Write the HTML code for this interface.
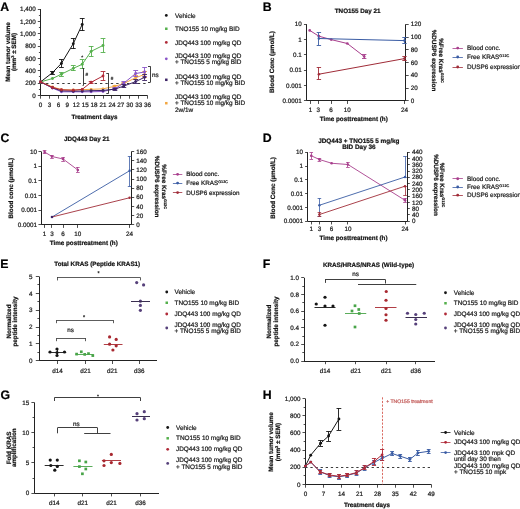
<!DOCTYPE html>
<html><head><meta charset="utf-8"><style>
html,body{margin:0;padding:0;background:#fff;}
svg{display:block;will-change:transform;filter:blur(0.3px);}
text{font-family:"Liberation Sans", sans-serif;text-rendering:geometricPrecision;}
</style></head><body>
<svg width="520" height="509" viewBox="0 0 520 509">
<rect width="520" height="509" fill="#fff"/>
<text x="0.30" y="11.00" font-size="12.3" text-anchor="start" font-weight="bold" fill="#000" stroke="#000" stroke-width="0.2">A</text>
<line x1="40.50" y1="9.05" x2="40.50" y2="95.50" stroke="#222" stroke-width="1.0"/>
<line x1="40.60" y1="95.50" x2="37.80" y2="95.50" stroke="#222" stroke-width="0.8"/>
<line x1="40.60" y1="83.50" x2="37.80" y2="83.50" stroke="#222" stroke-width="0.8"/>
<line x1="40.60" y1="70.50" x2="37.80" y2="70.50" stroke="#222" stroke-width="0.8"/>
<line x1="40.60" y1="58.50" x2="37.80" y2="58.50" stroke="#222" stroke-width="0.8"/>
<line x1="40.60" y1="46.50" x2="37.80" y2="46.50" stroke="#222" stroke-width="0.8"/>
<line x1="40.60" y1="33.50" x2="37.80" y2="33.50" stroke="#222" stroke-width="0.8"/>
<line x1="40.60" y1="21.50" x2="37.80" y2="21.50" stroke="#222" stroke-width="0.8"/>
<line x1="40.60" y1="9.50" x2="37.80" y2="9.50" stroke="#222" stroke-width="0.8"/>
<line x1="40.60" y1="89.50" x2="38.90" y2="89.50" stroke="#222" stroke-width="0.8"/>
<line x1="40.60" y1="76.50" x2="38.90" y2="76.50" stroke="#222" stroke-width="0.8"/>
<line x1="40.60" y1="64.50" x2="38.90" y2="64.50" stroke="#222" stroke-width="0.8"/>
<line x1="40.60" y1="52.50" x2="38.90" y2="52.50" stroke="#222" stroke-width="0.8"/>
<line x1="40.60" y1="39.50" x2="38.90" y2="39.50" stroke="#222" stroke-width="0.8"/>
<line x1="40.60" y1="27.50" x2="38.90" y2="27.50" stroke="#222" stroke-width="0.8"/>
<line x1="40.60" y1="15.50" x2="38.90" y2="15.50" stroke="#222" stroke-width="0.8"/>
<text x="35.70" y="97.60" font-size="6.3" text-anchor="end" fill="#222" stroke="#222" stroke-width="0.22">0</text>
<text x="35.70" y="85.25" font-size="6.3" text-anchor="end" fill="#222" stroke="#222" stroke-width="0.22">200</text>
<text x="35.70" y="72.90" font-size="6.3" text-anchor="end" fill="#222" stroke="#222" stroke-width="0.22">400</text>
<text x="35.70" y="60.55" font-size="6.3" text-anchor="end" fill="#222" stroke="#222" stroke-width="0.22">600</text>
<text x="35.70" y="48.20" font-size="6.3" text-anchor="end" fill="#222" stroke="#222" stroke-width="0.22">800</text>
<text x="35.70" y="35.85" font-size="6.3" text-anchor="end" fill="#222" stroke="#222" stroke-width="0.22">1,000</text>
<text x="35.70" y="23.50" font-size="6.3" text-anchor="end" fill="#222" stroke="#222" stroke-width="0.22">1,200</text>
<text x="35.70" y="11.15" font-size="6.3" text-anchor="end" fill="#222" stroke="#222" stroke-width="0.22">1,400</text>
<line x1="40.60" y1="95.50" x2="147.59" y2="95.50" stroke="#222" stroke-width="1.0"/>
<line x1="40.50" y1="95.50" x2="40.50" y2="98.70" stroke="#222" stroke-width="0.8"/>
<line x1="49.50" y1="95.50" x2="49.50" y2="98.70" stroke="#222" stroke-width="0.8"/>
<line x1="58.50" y1="95.50" x2="58.50" y2="98.70" stroke="#222" stroke-width="0.8"/>
<line x1="67.50" y1="95.50" x2="67.50" y2="98.70" stroke="#222" stroke-width="0.8"/>
<line x1="76.50" y1="95.50" x2="76.50" y2="98.70" stroke="#222" stroke-width="0.8"/>
<line x1="85.50" y1="95.50" x2="85.50" y2="98.70" stroke="#222" stroke-width="0.8"/>
<line x1="94.50" y1="95.50" x2="94.50" y2="98.70" stroke="#222" stroke-width="0.8"/>
<line x1="103.50" y1="95.50" x2="103.50" y2="98.70" stroke="#222" stroke-width="0.8"/>
<line x1="111.50" y1="95.50" x2="111.50" y2="98.70" stroke="#222" stroke-width="0.8"/>
<line x1="120.50" y1="95.50" x2="120.50" y2="98.70" stroke="#222" stroke-width="0.8"/>
<line x1="129.50" y1="95.50" x2="129.50" y2="98.70" stroke="#222" stroke-width="0.8"/>
<line x1="138.50" y1="95.50" x2="138.50" y2="98.70" stroke="#222" stroke-width="0.8"/>
<line x1="147.50" y1="95.50" x2="147.50" y2="98.70" stroke="#222" stroke-width="0.8"/>
<text x="40.60" y="107.45" font-size="6.3" text-anchor="middle" fill="#222" stroke="#222" stroke-width="0.22">0</text>
<text x="49.52" y="107.45" font-size="6.3" text-anchor="middle" fill="#222" stroke="#222" stroke-width="0.22">3</text>
<text x="58.43" y="107.45" font-size="6.3" text-anchor="middle" fill="#222" stroke="#222" stroke-width="0.22">6</text>
<text x="67.35" y="107.45" font-size="6.3" text-anchor="middle" fill="#222" stroke="#222" stroke-width="0.22">9</text>
<text x="76.26" y="107.45" font-size="6.3" text-anchor="middle" fill="#222" stroke="#222" stroke-width="0.22">12</text>
<text x="85.18" y="107.45" font-size="6.3" text-anchor="middle" fill="#222" stroke="#222" stroke-width="0.22">15</text>
<text x="94.10" y="107.45" font-size="6.3" text-anchor="middle" fill="#222" stroke="#222" stroke-width="0.22">18</text>
<text x="103.01" y="107.45" font-size="6.3" text-anchor="middle" fill="#222" stroke="#222" stroke-width="0.22">21</text>
<text x="111.93" y="107.45" font-size="6.3" text-anchor="middle" fill="#222" stroke="#222" stroke-width="0.22">24</text>
<text x="120.84" y="107.45" font-size="6.3" text-anchor="middle" fill="#222" stroke="#222" stroke-width="0.22">27</text>
<text x="129.76" y="107.45" font-size="6.3" text-anchor="middle" fill="#222" stroke="#222" stroke-width="0.22">30</text>
<text x="138.68" y="107.45" font-size="6.3" text-anchor="middle" fill="#222" stroke="#222" stroke-width="0.22">33</text>
<text x="147.59" y="107.45" font-size="6.3" text-anchor="middle" fill="#222" stroke="#222" stroke-width="0.22">36</text>
<text x="94.50" y="118.50" font-size="6.3" text-anchor="middle" font-weight="bold" fill="#111" stroke="#111" stroke-width="0.2">Treatment days</text>
<text x="9.80" y="52.00" font-size="6.3" text-anchor="middle" font-weight="bold" fill="#111" stroke="#111" stroke-width="0.2" transform="rotate(-90 9.8 52)">Mean tumor volume</text>
<text x="16.30" y="52.00" font-size="6.3" text-anchor="middle" font-weight="bold" fill="#111" stroke="#111" stroke-width="0.2" transform="rotate(-90 16.3 52)">(mm<tspan font-size="4" dy="-2">3</tspan><tspan dy="2"> ± SEM)</tspan></text>
<line x1="40.60" y1="83.50" x2="147.59" y2="83.50" stroke="#333" stroke-width="0.95" stroke-dasharray="2.4,3.0"/>
<polyline points="40.60,81.92 52.49,72.65 61.40,63.39 73.29,43.63 82.21,24.49" fill="none" stroke="#151515" stroke-width="1.0" stroke-linejoin="round"/>
<circle cx="40.60" cy="81.92" r="1.45" fill="#151515"/>
<line x1="52.50" y1="71.29" x2="52.50" y2="74.01" stroke="#151515" stroke-width="0.9"/>
<line x1="50.09" y1="71.50" x2="54.89" y2="71.50" stroke="#151515" stroke-width="0.9"/>
<line x1="50.09" y1="74.50" x2="54.89" y2="74.50" stroke="#151515" stroke-width="0.9"/>
<circle cx="52.49" cy="72.65" r="1.45" fill="#151515"/>
<line x1="61.50" y1="59.38" x2="61.50" y2="67.40" stroke="#151515" stroke-width="0.9"/>
<line x1="59.00" y1="59.50" x2="63.80" y2="59.50" stroke="#151515" stroke-width="0.9"/>
<line x1="59.00" y1="67.50" x2="63.80" y2="67.50" stroke="#151515" stroke-width="0.9"/>
<circle cx="61.40" cy="63.39" r="1.45" fill="#151515"/>
<line x1="73.50" y1="38.44" x2="73.50" y2="48.82" stroke="#151515" stroke-width="0.9"/>
<line x1="70.89" y1="38.50" x2="75.69" y2="38.50" stroke="#151515" stroke-width="0.9"/>
<line x1="70.89" y1="48.50" x2="75.69" y2="48.50" stroke="#151515" stroke-width="0.9"/>
<circle cx="73.29" cy="43.63" r="1.45" fill="#151515"/>
<line x1="82.50" y1="18.07" x2="82.50" y2="30.91" stroke="#151515" stroke-width="0.9"/>
<line x1="79.81" y1="18.50" x2="84.61" y2="18.50" stroke="#151515" stroke-width="0.9"/>
<line x1="79.81" y1="30.50" x2="84.61" y2="30.50" stroke="#151515" stroke-width="0.9"/>
<circle cx="82.21" cy="24.49" r="1.45" fill="#151515"/>
<polyline points="40.60,81.92 52.49,78.52 61.40,74.20 73.29,68.33 82.21,64.32 91.12,51.35 103.01,45.48" fill="none" stroke="#55b04c" stroke-width="1.0" stroke-linejoin="round"/>
<circle cx="40.60" cy="81.92" r="1.45" fill="#55b04c"/>
<circle cx="52.49" cy="78.52" r="1.45" fill="#55b04c"/>
<line x1="61.50" y1="72.34" x2="61.50" y2="76.05" stroke="#55b04c" stroke-width="0.9"/>
<line x1="59.00" y1="72.50" x2="63.80" y2="72.50" stroke="#55b04c" stroke-width="0.9"/>
<line x1="59.00" y1="76.50" x2="63.80" y2="76.50" stroke="#55b04c" stroke-width="0.9"/>
<circle cx="61.40" cy="74.20" r="1.45" fill="#55b04c"/>
<line x1="73.50" y1="65.86" x2="73.50" y2="70.80" stroke="#55b04c" stroke-width="0.9"/>
<line x1="70.89" y1="65.50" x2="75.69" y2="65.50" stroke="#55b04c" stroke-width="0.9"/>
<line x1="70.89" y1="70.50" x2="75.69" y2="70.50" stroke="#55b04c" stroke-width="0.9"/>
<circle cx="73.29" cy="68.33" r="1.45" fill="#55b04c"/>
<line x1="82.50" y1="59.99" x2="82.50" y2="68.64" stroke="#55b04c" stroke-width="0.9"/>
<line x1="79.81" y1="59.50" x2="84.61" y2="59.50" stroke="#55b04c" stroke-width="0.9"/>
<line x1="79.81" y1="68.50" x2="84.61" y2="68.50" stroke="#55b04c" stroke-width="0.9"/>
<circle cx="82.21" cy="64.32" r="1.45" fill="#55b04c"/>
<line x1="91.50" y1="46.10" x2="91.50" y2="56.60" stroke="#55b04c" stroke-width="0.9"/>
<line x1="88.72" y1="46.50" x2="93.52" y2="46.50" stroke="#55b04c" stroke-width="0.9"/>
<line x1="88.72" y1="56.50" x2="93.52" y2="56.50" stroke="#55b04c" stroke-width="0.9"/>
<circle cx="91.12" cy="51.35" r="1.45" fill="#55b04c"/>
<line x1="103.50" y1="38.69" x2="103.50" y2="52.27" stroke="#55b04c" stroke-width="0.9"/>
<line x1="100.61" y1="38.50" x2="105.41" y2="38.50" stroke="#55b04c" stroke-width="0.9"/>
<line x1="100.61" y1="52.50" x2="105.41" y2="52.50" stroke="#55b04c" stroke-width="0.9"/>
<circle cx="103.01" cy="45.48" r="1.45" fill="#55b04c"/>
<polyline points="40.60,81.92 52.49,86.86 61.40,89.63 73.29,89.94 82.21,89.63 91.12,89.33 103.01,88.83 114.90,86.24 123.82,83.46 135.70,77.78 144.62,74.38" fill="none" stroke="#f2a640" stroke-width="1.0" stroke-linejoin="round"/>
<circle cx="40.60" cy="81.92" r="1.45" fill="#f2a640"/>
<circle cx="52.49" cy="86.86" r="1.45" fill="#f2a640"/>
<circle cx="61.40" cy="89.63" r="1.45" fill="#f2a640"/>
<circle cx="73.29" cy="89.94" r="1.45" fill="#f2a640"/>
<circle cx="82.21" cy="89.63" r="1.45" fill="#f2a640"/>
<circle cx="91.12" cy="89.33" r="1.45" fill="#f2a640"/>
<circle cx="103.01" cy="88.83" r="1.45" fill="#f2a640"/>
<line x1="114.50" y1="85.31" x2="114.50" y2="87.16" stroke="#f2a640" stroke-width="0.9"/>
<line x1="112.50" y1="85.50" x2="117.30" y2="85.50" stroke="#f2a640" stroke-width="0.9"/>
<line x1="112.50" y1="87.50" x2="117.30" y2="87.50" stroke="#f2a640" stroke-width="0.9"/>
<circle cx="114.90" cy="86.24" r="1.45" fill="#f2a640"/>
<line x1="123.50" y1="82.22" x2="123.50" y2="84.69" stroke="#f2a640" stroke-width="0.9"/>
<line x1="121.42" y1="82.50" x2="126.22" y2="82.50" stroke="#f2a640" stroke-width="0.9"/>
<line x1="121.42" y1="84.50" x2="126.22" y2="84.50" stroke="#f2a640" stroke-width="0.9"/>
<circle cx="123.82" cy="83.46" r="1.45" fill="#f2a640"/>
<line x1="135.50" y1="75.62" x2="135.50" y2="79.94" stroke="#f2a640" stroke-width="0.9"/>
<line x1="133.30" y1="75.50" x2="138.10" y2="75.50" stroke="#f2a640" stroke-width="0.9"/>
<line x1="133.30" y1="79.50" x2="138.10" y2="79.50" stroke="#f2a640" stroke-width="0.9"/>
<circle cx="135.70" cy="77.78" r="1.45" fill="#f2a640"/>
<line x1="144.50" y1="71.29" x2="144.50" y2="77.47" stroke="#f2a640" stroke-width="0.9"/>
<line x1="142.22" y1="71.50" x2="147.02" y2="71.50" stroke="#f2a640" stroke-width="0.9"/>
<line x1="142.22" y1="77.50" x2="147.02" y2="77.50" stroke="#f2a640" stroke-width="0.9"/>
<circle cx="144.62" cy="74.38" r="1.45" fill="#f2a640"/>
<polyline points="40.60,81.92 52.49,88.09 61.40,91.80 73.29,91.80 82.21,91.80 91.12,91.80 103.01,91.49 114.90,88.71 123.82,83.15 135.70,73.52 144.62,72.03" fill="none" stroke="#8a55c8" stroke-width="1.0" stroke-linejoin="round"/>
<circle cx="40.60" cy="81.92" r="1.45" fill="#8a55c8"/>
<circle cx="52.49" cy="88.09" r="1.45" fill="#8a55c8"/>
<circle cx="61.40" cy="91.80" r="1.45" fill="#8a55c8"/>
<circle cx="73.29" cy="91.80" r="1.45" fill="#8a55c8"/>
<circle cx="82.21" cy="91.80" r="1.45" fill="#8a55c8"/>
<circle cx="91.12" cy="91.80" r="1.45" fill="#8a55c8"/>
<circle cx="103.01" cy="91.49" r="1.45" fill="#8a55c8"/>
<line x1="114.50" y1="87.78" x2="114.50" y2="89.63" stroke="#8a55c8" stroke-width="0.9"/>
<line x1="112.50" y1="87.50" x2="117.30" y2="87.50" stroke="#8a55c8" stroke-width="0.9"/>
<line x1="112.50" y1="89.50" x2="117.30" y2="89.50" stroke="#8a55c8" stroke-width="0.9"/>
<circle cx="114.90" cy="88.71" r="1.45" fill="#8a55c8"/>
<line x1="123.50" y1="81.92" x2="123.50" y2="84.39" stroke="#8a55c8" stroke-width="0.9"/>
<line x1="121.42" y1="81.50" x2="126.22" y2="81.50" stroke="#8a55c8" stroke-width="0.9"/>
<line x1="121.42" y1="84.50" x2="126.22" y2="84.50" stroke="#8a55c8" stroke-width="0.9"/>
<circle cx="123.82" cy="83.15" r="1.45" fill="#8a55c8"/>
<line x1="135.50" y1="70.74" x2="135.50" y2="76.30" stroke="#8a55c8" stroke-width="0.9"/>
<line x1="133.30" y1="70.50" x2="138.10" y2="70.50" stroke="#8a55c8" stroke-width="0.9"/>
<line x1="133.30" y1="76.50" x2="138.10" y2="76.50" stroke="#8a55c8" stroke-width="0.9"/>
<circle cx="135.70" cy="73.52" r="1.45" fill="#8a55c8"/>
<line x1="144.50" y1="67.40" x2="144.50" y2="76.67" stroke="#8a55c8" stroke-width="0.9"/>
<line x1="142.22" y1="67.50" x2="147.02" y2="67.50" stroke="#8a55c8" stroke-width="0.9"/>
<line x1="142.22" y1="76.50" x2="147.02" y2="76.50" stroke="#8a55c8" stroke-width="0.9"/>
<circle cx="144.62" cy="72.03" r="1.45" fill="#8a55c8"/>
<polyline points="40.60,81.92 52.49,87.78 61.40,90.87 73.29,91.18 82.21,91.05 91.12,90.68 103.01,90.44 114.90,89.14 123.82,86.05 135.70,81.61 144.62,77.28" fill="none" stroke="#3d2466" stroke-width="1.0" stroke-linejoin="round"/>
<circle cx="40.60" cy="81.92" r="1.45" fill="#3d2466"/>
<circle cx="52.49" cy="87.78" r="1.45" fill="#3d2466"/>
<circle cx="61.40" cy="90.87" r="1.45" fill="#3d2466"/>
<circle cx="73.29" cy="91.18" r="1.45" fill="#3d2466"/>
<circle cx="82.21" cy="91.05" r="1.45" fill="#3d2466"/>
<circle cx="91.12" cy="90.68" r="1.45" fill="#3d2466"/>
<circle cx="103.01" cy="90.44" r="1.45" fill="#3d2466"/>
<line x1="114.50" y1="88.21" x2="114.50" y2="90.07" stroke="#3d2466" stroke-width="0.9"/>
<line x1="112.50" y1="88.50" x2="117.30" y2="88.50" stroke="#3d2466" stroke-width="0.9"/>
<line x1="112.50" y1="90.50" x2="117.30" y2="90.50" stroke="#3d2466" stroke-width="0.9"/>
<circle cx="114.90" cy="89.14" r="1.45" fill="#3d2466"/>
<line x1="123.50" y1="84.82" x2="123.50" y2="87.29" stroke="#3d2466" stroke-width="0.9"/>
<line x1="121.42" y1="84.50" x2="126.22" y2="84.50" stroke="#3d2466" stroke-width="0.9"/>
<line x1="121.42" y1="87.50" x2="126.22" y2="87.50" stroke="#3d2466" stroke-width="0.9"/>
<circle cx="123.82" cy="86.05" r="1.45" fill="#3d2466"/>
<line x1="135.50" y1="79.75" x2="135.50" y2="83.46" stroke="#3d2466" stroke-width="0.9"/>
<line x1="133.30" y1="79.50" x2="138.10" y2="79.50" stroke="#3d2466" stroke-width="0.9"/>
<line x1="133.30" y1="83.50" x2="138.10" y2="83.50" stroke="#3d2466" stroke-width="0.9"/>
<circle cx="135.70" cy="81.61" r="1.45" fill="#3d2466"/>
<line x1="144.50" y1="74.50" x2="144.50" y2="80.06" stroke="#3d2466" stroke-width="0.9"/>
<line x1="142.22" y1="74.50" x2="147.02" y2="74.50" stroke="#3d2466" stroke-width="0.9"/>
<line x1="142.22" y1="80.50" x2="147.02" y2="80.50" stroke="#3d2466" stroke-width="0.9"/>
<circle cx="144.62" cy="77.28" r="1.45" fill="#3d2466"/>
<polyline points="40.60,81.92 52.49,87.47 61.40,89.82 73.29,90.25 82.21,89.39 91.12,82.29 103.01,75.99" fill="none" stroke="#b02a38" stroke-width="1.0" stroke-linejoin="round"/>
<circle cx="40.60" cy="81.92" r="1.45" fill="#b02a38"/>
<circle cx="52.49" cy="87.47" r="1.45" fill="#b02a38"/>
<circle cx="61.40" cy="89.82" r="1.45" fill="#b02a38"/>
<circle cx="73.29" cy="90.25" r="1.45" fill="#b02a38"/>
<circle cx="82.21" cy="89.39" r="1.45" fill="#b02a38"/>
<line x1="91.50" y1="81.05" x2="91.50" y2="83.52" stroke="#b02a38" stroke-width="0.9"/>
<line x1="88.72" y1="81.50" x2="93.52" y2="81.50" stroke="#b02a38" stroke-width="0.9"/>
<line x1="88.72" y1="83.50" x2="93.52" y2="83.50" stroke="#b02a38" stroke-width="0.9"/>
<circle cx="91.12" cy="82.29" r="1.45" fill="#b02a38"/>
<line x1="103.50" y1="71.66" x2="103.50" y2="80.31" stroke="#b02a38" stroke-width="0.9"/>
<line x1="100.61" y1="71.50" x2="105.41" y2="71.50" stroke="#b02a38" stroke-width="0.9"/>
<line x1="100.61" y1="80.50" x2="105.41" y2="80.50" stroke="#b02a38" stroke-width="0.9"/>
<circle cx="103.01" cy="75.99" r="1.45" fill="#b02a38"/>
<text x="82.21" y="58.50" font-size="5" text-anchor="middle" fill="#333" stroke="#333" stroke-width="0.22">*</text>
<line x1="83.50" y1="68.20" x2="83.50" y2="85.10" stroke="#2a2a2a" stroke-width="0.9"/>
<line x1="82.60" y1="68.50" x2="83.65" y2="68.50" stroke="#2a2a2a" stroke-width="0.9"/>
<line x1="82.60" y1="85.50" x2="83.65" y2="85.50" stroke="#2a2a2a" stroke-width="0.9"/>
<text x="86.80" y="75.90" font-size="4.6" text-anchor="middle" fill="#333" stroke="#333" stroke-width="0.22">#</text>
<line x1="108.50" y1="73.10" x2="108.50" y2="93.70" stroke="#2a2a2a" stroke-width="0.9"/>
<line x1="106.30" y1="73.50" x2="108.30" y2="73.50" stroke="#2a2a2a" stroke-width="0.9"/>
<line x1="106.30" y1="93.50" x2="108.30" y2="93.50" stroke="#2a2a2a" stroke-width="0.9"/>
<text x="112.00" y="79.70" font-size="4.6" text-anchor="middle" fill="#333" stroke="#333" stroke-width="0.22">#</text>
<line x1="150.50" y1="66.30" x2="150.50" y2="82.30" stroke="#2a2a2a" stroke-width="0.9"/>
<line x1="148.00" y1="66.50" x2="150.40" y2="66.50" stroke="#2a2a2a" stroke-width="0.9"/>
<line x1="148.00" y1="82.50" x2="150.40" y2="82.50" stroke="#2a2a2a" stroke-width="0.9"/>
<text x="155.40" y="76.60" font-size="6.3" text-anchor="middle" fill="#1a1a1a" stroke="#1a1a1a" stroke-width="0.22">ns</text>
<circle cx="166.30" cy="15.40" r="1.4" fill="#151515"/>
<text x="175.00" y="17.50" font-size="6.4" text-anchor="start" fill="#222" stroke="#222" stroke-width="0.22">Vehicle</text>
<rect x="165.05" y="27.50" width="2.5" height="2.5" fill="#55b04c"/>
<text x="175.00" y="30.85" font-size="6.4" text-anchor="start" fill="#222" stroke="#222" stroke-width="0.22">TNO155 10 mg/kg BID</text>
<circle cx="166.30" cy="42.40" r="1.4" fill="#b02a38"/>
<text x="175.00" y="44.50" font-size="6.4" text-anchor="start" fill="#222" stroke="#222" stroke-width="0.22">JDQ443 100 mg/kg QD</text>
<circle cx="166.30" cy="58.80" r="1.4" fill="#8a55c8"/>
<text x="175.00" y="57.70" font-size="6.4" text-anchor="start" fill="#222" stroke="#222" stroke-width="0.22">JDQ443 100 mg/kg QD</text>
<text x="175.00" y="64.00" font-size="6.4" text-anchor="start" fill="#222" stroke="#222" stroke-width="0.22">+ TNO155 5 mg/kg BID</text>
<rect x="165.05" y="78.55" width="2.5" height="2.5" fill="#3d2466"/>
<text x="175.00" y="78.60" font-size="6.4" text-anchor="start" fill="#222" stroke="#222" stroke-width="0.22">JDQ443 100 mg/kg QD</text>
<text x="175.00" y="85.00" font-size="6.4" text-anchor="start" fill="#222" stroke="#222" stroke-width="0.22">+ TNO155 10 mg/kg BID</text>
<rect x="165.05" y="101.95" width="2.5" height="2.5" fill="#f2a640"/>
<text x="175.00" y="98.70" font-size="6.4" text-anchor="start" fill="#222" stroke="#222" stroke-width="0.22">JDQ443 100 mg/kg QD</text>
<text x="175.00" y="105.30" font-size="6.4" text-anchor="start" fill="#222" stroke="#222" stroke-width="0.22">+ TNO155 10 mg/kg BID</text>
<text x="175.00" y="111.90" font-size="6.4" text-anchor="start" fill="#222" stroke="#222" stroke-width="0.22">2w/1w</text>
<text x="262.80" y="11.20" font-size="12.3" text-anchor="start" font-weight="bold" fill="#000" stroke="#000" stroke-width="0.2">B</text>
<text x="357.70" y="13.00" font-size="6.3" text-anchor="middle" font-weight="bold" fill="#111" stroke="#111" stroke-width="0.2">TNO155 Day 21</text>
<line x1="306.50" y1="24.25" x2="306.50" y2="100.75" stroke="#222" stroke-width="1.0"/>
<line x1="306.75" y1="100.50" x2="303.95" y2="100.50" stroke="#222" stroke-width="0.8"/>
<line x1="306.75" y1="85.50" x2="303.95" y2="85.50" stroke="#222" stroke-width="0.8"/>
<line x1="306.75" y1="70.50" x2="303.95" y2="70.50" stroke="#222" stroke-width="0.8"/>
<line x1="306.75" y1="54.50" x2="303.95" y2="54.50" stroke="#222" stroke-width="0.8"/>
<line x1="306.75" y1="39.50" x2="303.95" y2="39.50" stroke="#222" stroke-width="0.8"/>
<line x1="306.75" y1="24.50" x2="303.95" y2="24.50" stroke="#222" stroke-width="0.8"/>
<text x="301.85" y="102.85" font-size="6.3" text-anchor="end" fill="#222" stroke="#222" stroke-width="0.22">0.0001</text>
<text x="301.85" y="87.55" font-size="6.3" text-anchor="end" fill="#222" stroke="#222" stroke-width="0.22">0.001</text>
<text x="301.85" y="72.25" font-size="6.3" text-anchor="end" fill="#222" stroke="#222" stroke-width="0.22">0.01</text>
<text x="301.85" y="56.95" font-size="6.3" text-anchor="end" fill="#222" stroke="#222" stroke-width="0.22">0.1</text>
<text x="301.85" y="41.65" font-size="6.3" text-anchor="end" fill="#222" stroke="#222" stroke-width="0.22">1</text>
<text x="301.85" y="26.35" font-size="6.3" text-anchor="end" fill="#222" stroke="#222" stroke-width="0.22">10</text>
<line x1="405.50" y1="24.25" x2="405.50" y2="100.75" stroke="#222" stroke-width="1.0"/>
<line x1="405.90" y1="100.50" x2="408.70" y2="100.50" stroke="#222" stroke-width="0.8"/>
<line x1="405.90" y1="88.50" x2="408.70" y2="88.50" stroke="#222" stroke-width="0.8"/>
<line x1="405.90" y1="75.50" x2="408.70" y2="75.50" stroke="#222" stroke-width="0.8"/>
<line x1="405.90" y1="62.50" x2="408.70" y2="62.50" stroke="#222" stroke-width="0.8"/>
<line x1="405.90" y1="49.50" x2="408.70" y2="49.50" stroke="#222" stroke-width="0.8"/>
<line x1="405.90" y1="37.50" x2="408.70" y2="37.50" stroke="#222" stroke-width="0.8"/>
<line x1="405.90" y1="24.50" x2="408.70" y2="24.50" stroke="#222" stroke-width="0.8"/>
<text x="410.80" y="102.85" font-size="6.3" text-anchor="start" fill="#222" stroke="#222" stroke-width="0.22">0</text>
<text x="410.80" y="90.10" font-size="6.3" text-anchor="start" fill="#222" stroke="#222" stroke-width="0.22">20</text>
<text x="410.80" y="77.35" font-size="6.3" text-anchor="start" fill="#222" stroke="#222" stroke-width="0.22">40</text>
<text x="410.80" y="64.60" font-size="6.3" text-anchor="start" fill="#222" stroke="#222" stroke-width="0.22">60</text>
<text x="410.80" y="51.85" font-size="6.3" text-anchor="start" fill="#222" stroke="#222" stroke-width="0.22">80</text>
<text x="410.80" y="39.10" font-size="6.3" text-anchor="start" fill="#222" stroke="#222" stroke-width="0.22">100</text>
<text x="410.80" y="26.35" font-size="6.3" text-anchor="start" fill="#222" stroke="#222" stroke-width="0.22">120</text>
<line x1="306.75" y1="100.50" x2="405.90" y2="100.50" stroke="#222" stroke-width="1.0"/>
<line x1="310.50" y1="100.75" x2="310.50" y2="103.95" stroke="#222" stroke-width="0.8"/>
<line x1="318.50" y1="100.75" x2="318.50" y2="103.95" stroke="#222" stroke-width="0.8"/>
<line x1="331.50" y1="100.75" x2="331.50" y2="103.95" stroke="#222" stroke-width="0.8"/>
<line x1="347.50" y1="100.75" x2="347.50" y2="103.95" stroke="#222" stroke-width="0.8"/>
<line x1="404.50" y1="100.75" x2="404.50" y2="103.95" stroke="#222" stroke-width="0.8"/>
<text x="310.50" y="111.85" font-size="6.3" text-anchor="middle" fill="#222" stroke="#222" stroke-width="0.22">1</text>
<text x="318.30" y="111.85" font-size="6.3" text-anchor="middle" fill="#222" stroke="#222" stroke-width="0.22">3</text>
<text x="331.00" y="111.85" font-size="6.3" text-anchor="middle" fill="#222" stroke="#222" stroke-width="0.22">6</text>
<text x="347.30" y="111.85" font-size="6.3" text-anchor="middle" fill="#222" stroke="#222" stroke-width="0.22">10</text>
<text x="404.50" y="111.85" font-size="6.3" text-anchor="middle" fill="#222" stroke="#222" stroke-width="0.22">24</text>
<text x="353.75" y="121.30" font-size="6.3" text-anchor="middle" font-weight="bold" fill="#111" stroke="#111" stroke-width="0.2">Time posttreatment (h)</text>
<text x="273.70" y="62.10" font-size="6.3" text-anchor="middle" font-weight="bold" fill="#111" stroke="#111" stroke-width="0.2" transform="rotate(-90 273.7 62.1)">Blood Conc (µmol/L)</text>
<text x="439.00" y="60.50" font-size="6.3" text-anchor="middle" font-weight="bold" fill="#111" stroke="#111" stroke-width="0.2" transform="rotate(90 439 60.5)">%Free Kras<tspan font-size="3.8" dy="-2">G12C</tspan></text>
<text x="432.30" y="60.50" font-size="6.3" text-anchor="middle" font-weight="bold" fill="#111" stroke="#111" stroke-width="0.2" transform="rotate(90 432.3 60.5)">%DUSP6 expression</text>
<polyline points="309.70,30.40 318.90,36.20 331.20,39.60 347.30,43.50 364.20,56.50" fill="none" stroke="#a83e8c" stroke-width="1.0" stroke-linejoin="round"/>
<circle cx="309.70" cy="30.40" r="1.35" fill="#a83e8c"/>
<circle cx="318.90" cy="36.20" r="1.35" fill="#a83e8c"/>
<circle cx="331.20" cy="39.60" r="1.35" fill="#a83e8c"/>
<circle cx="347.30" cy="43.50" r="1.35" fill="#a83e8c"/>
<circle cx="364.20" cy="56.50" r="1.35" fill="#a83e8c"/>
<line x1="364.50" y1="54.60" x2="364.50" y2="58.80" stroke="#a83e8c" stroke-width="0.9"/>
<line x1="362.00" y1="54.50" x2="366.40" y2="54.50" stroke="#a83e8c" stroke-width="0.9"/>
<line x1="362.00" y1="58.50" x2="366.40" y2="58.50" stroke="#a83e8c" stroke-width="0.9"/>
<polyline points="318.90,38.50 404.50,40.60" fill="none" stroke="#3a5ca4" stroke-width="1.0" stroke-linejoin="round"/>
<line x1="318.50" y1="32.70" x2="318.50" y2="45.40" stroke="#3a5ca4" stroke-width="0.9"/>
<line x1="316.70" y1="32.50" x2="321.10" y2="32.50" stroke="#3a5ca4" stroke-width="0.9"/>
<line x1="316.70" y1="45.50" x2="321.10" y2="45.50" stroke="#3a5ca4" stroke-width="0.9"/>
<line x1="404.50" y1="37.60" x2="404.50" y2="43.20" stroke="#3a5ca4" stroke-width="0.9"/>
<line x1="402.30" y1="37.50" x2="406.70" y2="37.50" stroke="#3a5ca4" stroke-width="0.9"/>
<line x1="402.30" y1="43.50" x2="406.70" y2="43.50" stroke="#3a5ca4" stroke-width="0.9"/>
<circle cx="318.90" cy="38.50" r="1.3" fill="#3a5ca4"/>
<circle cx="404.50" cy="40.60" r="1.3" fill="#3a5ca4"/>
<polyline points="318.90,74.20 404.50,58.60" fill="none" stroke="#a02c38" stroke-width="1.0" stroke-linejoin="round"/>
<line x1="318.50" y1="67.30" x2="318.50" y2="79.50" stroke="#a02c38" stroke-width="0.9"/>
<line x1="316.70" y1="67.50" x2="321.10" y2="67.50" stroke="#a02c38" stroke-width="0.9"/>
<line x1="316.70" y1="79.50" x2="321.10" y2="79.50" stroke="#a02c38" stroke-width="0.9"/>
<circle cx="318.90" cy="74.20" r="1.3" fill="#a02c38"/>
<circle cx="404.50" cy="58.60" r="1.3" fill="#a02c38"/>
<line x1="404.50" y1="56.50" x2="404.50" y2="60.50" stroke="#a02c38" stroke-width="0.9"/>
<line x1="402.30" y1="56.50" x2="406.70" y2="56.50" stroke="#a02c38" stroke-width="0.9"/>
<line x1="402.30" y1="60.50" x2="406.70" y2="60.50" stroke="#a02c38" stroke-width="0.9"/>
<line x1="452.50" y1="48.50" x2="462.90" y2="48.50" stroke="#a83e8c" stroke-width="0.8"/>
<circle cx="457.70" cy="48.10" r="1.4" fill="#a83e8c"/>
<text x="467.00" y="50.20" font-size="6.4" text-anchor="start" fill="#222" stroke="#222" stroke-width="0.22">Blood conc.</text>
<line x1="452.50" y1="57.50" x2="462.90" y2="57.50" stroke="#3a5ca4" stroke-width="0.8"/>
<circle cx="457.70" cy="57.00" r="1.4" fill="#3a5ca4"/>
<text x="467.00" y="59.10" font-size="6.4" text-anchor="start" fill="#222" stroke="#222" stroke-width="0.22">Free KRAS<tspan font-size="3.8" dy="-2">G12C</tspan></text>
<line x1="452.50" y1="67.50" x2="462.90" y2="67.50" stroke="#a02c38" stroke-width="0.8"/>
<circle cx="457.70" cy="67.00" r="1.4" fill="#a02c38"/>
<text x="467.00" y="69.10" font-size="6.4" text-anchor="start" fill="#222" stroke="#222" stroke-width="0.22">DUSP6 expression</text>
<text x="0.50" y="142.30" font-size="12.3" text-anchor="start" font-weight="bold" fill="#000" stroke="#000" stroke-width="0.2">C</text>
<text x="86.70" y="140.70" font-size="6.3" text-anchor="middle" font-weight="bold" fill="#111" stroke="#111" stroke-width="0.2">JDQ443 Day 21</text>
<line x1="41.50" y1="151.60" x2="41.50" y2="224.70" stroke="#222" stroke-width="1.0"/>
<line x1="41.25" y1="224.50" x2="38.45" y2="224.50" stroke="#222" stroke-width="0.8"/>
<line x1="41.25" y1="210.50" x2="38.45" y2="210.50" stroke="#222" stroke-width="0.8"/>
<line x1="41.25" y1="195.50" x2="38.45" y2="195.50" stroke="#222" stroke-width="0.8"/>
<line x1="41.25" y1="180.50" x2="38.45" y2="180.50" stroke="#222" stroke-width="0.8"/>
<line x1="41.25" y1="166.50" x2="38.45" y2="166.50" stroke="#222" stroke-width="0.8"/>
<line x1="41.25" y1="151.50" x2="38.45" y2="151.50" stroke="#222" stroke-width="0.8"/>
<text x="37.05" y="226.80" font-size="6.3" text-anchor="end" fill="#222" stroke="#222" stroke-width="0.22">0.0001</text>
<text x="37.05" y="212.18" font-size="6.3" text-anchor="end" fill="#222" stroke="#222" stroke-width="0.22">0.001</text>
<text x="37.05" y="197.56" font-size="6.3" text-anchor="end" fill="#222" stroke="#222" stroke-width="0.22">0.01</text>
<text x="37.05" y="182.94" font-size="6.3" text-anchor="end" fill="#222" stroke="#222" stroke-width="0.22">0.1</text>
<text x="37.05" y="168.32" font-size="6.3" text-anchor="end" fill="#222" stroke="#222" stroke-width="0.22">1</text>
<text x="37.05" y="153.70" font-size="6.3" text-anchor="end" fill="#222" stroke="#222" stroke-width="0.22">10</text>
<line x1="131.50" y1="151.60" x2="131.50" y2="224.70" stroke="#222" stroke-width="1.0"/>
<line x1="131.40" y1="224.50" x2="134.20" y2="224.50" stroke="#222" stroke-width="0.8"/>
<line x1="131.40" y1="215.50" x2="134.20" y2="215.50" stroke="#222" stroke-width="0.8"/>
<line x1="131.40" y1="206.50" x2="134.20" y2="206.50" stroke="#222" stroke-width="0.8"/>
<line x1="131.40" y1="197.50" x2="134.20" y2="197.50" stroke="#222" stroke-width="0.8"/>
<line x1="131.40" y1="188.50" x2="134.20" y2="188.50" stroke="#222" stroke-width="0.8"/>
<line x1="131.40" y1="179.50" x2="134.20" y2="179.50" stroke="#222" stroke-width="0.8"/>
<line x1="131.40" y1="169.50" x2="134.20" y2="169.50" stroke="#222" stroke-width="0.8"/>
<line x1="131.40" y1="160.50" x2="134.20" y2="160.50" stroke="#222" stroke-width="0.8"/>
<line x1="131.40" y1="151.50" x2="134.20" y2="151.50" stroke="#222" stroke-width="0.8"/>
<text x="136.30" y="226.80" font-size="6.3" text-anchor="start" fill="#222" stroke="#222" stroke-width="0.22">0</text>
<text x="136.30" y="217.66" font-size="6.3" text-anchor="start" fill="#222" stroke="#222" stroke-width="0.22">20</text>
<text x="136.30" y="208.52" font-size="6.3" text-anchor="start" fill="#222" stroke="#222" stroke-width="0.22">40</text>
<text x="136.30" y="199.39" font-size="6.3" text-anchor="start" fill="#222" stroke="#222" stroke-width="0.22">60</text>
<text x="136.30" y="190.25" font-size="6.3" text-anchor="start" fill="#222" stroke="#222" stroke-width="0.22">80</text>
<text x="136.30" y="181.11" font-size="6.3" text-anchor="start" fill="#222" stroke="#222" stroke-width="0.22">100</text>
<text x="136.30" y="171.97" font-size="6.3" text-anchor="start" fill="#222" stroke="#222" stroke-width="0.22">120</text>
<text x="136.30" y="162.84" font-size="6.3" text-anchor="start" fill="#222" stroke="#222" stroke-width="0.22">140</text>
<text x="136.30" y="153.70" font-size="6.3" text-anchor="start" fill="#222" stroke="#222" stroke-width="0.22">160</text>
<line x1="41.25" y1="224.50" x2="131.40" y2="224.50" stroke="#222" stroke-width="1.0"/>
<line x1="44.50" y1="224.70" x2="44.50" y2="227.90" stroke="#222" stroke-width="0.8"/>
<line x1="51.50" y1="224.70" x2="51.50" y2="227.90" stroke="#222" stroke-width="0.8"/>
<line x1="63.50" y1="224.70" x2="63.50" y2="227.90" stroke="#222" stroke-width="0.8"/>
<line x1="77.50" y1="224.70" x2="77.50" y2="227.90" stroke="#222" stroke-width="0.8"/>
<line x1="129.50" y1="224.70" x2="129.50" y2="227.90" stroke="#222" stroke-width="0.8"/>
<text x="44.60" y="236.00" font-size="6.3" text-anchor="middle" fill="#222" stroke="#222" stroke-width="0.22">1</text>
<text x="51.99" y="236.00" font-size="6.3" text-anchor="middle" fill="#222" stroke="#222" stroke-width="0.22">3</text>
<text x="63.08" y="236.00" font-size="6.3" text-anchor="middle" fill="#222" stroke="#222" stroke-width="0.22">6</text>
<text x="77.86" y="236.00" font-size="6.3" text-anchor="middle" fill="#222" stroke="#222" stroke-width="0.22">10</text>
<text x="129.60" y="236.00" font-size="6.3" text-anchor="middle" fill="#222" stroke="#222" stroke-width="0.22">24</text>
<text x="83.75" y="245.00" font-size="6.3" text-anchor="middle" font-weight="bold" fill="#111" stroke="#111" stroke-width="0.2">Time posttreatment (h)</text>
<text x="12.80" y="188.20" font-size="6.3" text-anchor="middle" font-weight="bold" fill="#111" stroke="#111" stroke-width="0.2" transform="rotate(-90 12.8 188.2)">Blood conc (µmol/L)</text>
<text x="161.60" y="186.60" font-size="6.3" text-anchor="middle" font-weight="bold" fill="#111" stroke="#111" stroke-width="0.2" transform="rotate(90 161.6 186.6)">%Free Kras<tspan font-size="3.8" dy="-2">G12C</tspan></text>
<text x="155.20" y="186.60" font-size="6.3" text-anchor="middle" font-weight="bold" fill="#111" stroke="#111" stroke-width="0.2" transform="rotate(90 155.2 186.6)">%DUSP6 expression</text>
<polyline points="44.60,152.00 51.99,156.50 63.08,159.00 77.86,170.00" fill="none" stroke="#a83e8c" stroke-width="0.9" stroke-linejoin="round"/>
<circle cx="44.60" cy="152.00" r="1.3" fill="#a83e8c"/>
<circle cx="51.99" cy="156.50" r="1.3" fill="#a83e8c"/>
<circle cx="63.08" cy="159.00" r="1.3" fill="#a83e8c"/>
<circle cx="77.86" cy="170.00" r="1.3" fill="#a83e8c"/>
<line x1="44.50" y1="150.50" x2="44.50" y2="153.50" stroke="#a83e8c" stroke-width="0.8"/>
<line x1="42.80" y1="150.50" x2="46.40" y2="150.50" stroke="#a83e8c" stroke-width="0.8"/>
<line x1="42.80" y1="153.50" x2="46.40" y2="153.50" stroke="#a83e8c" stroke-width="0.8"/>
<line x1="51.50" y1="155.00" x2="51.50" y2="158.00" stroke="#a83e8c" stroke-width="0.8"/>
<line x1="50.19" y1="155.50" x2="53.79" y2="155.50" stroke="#a83e8c" stroke-width="0.8"/>
<line x1="50.19" y1="158.50" x2="53.79" y2="158.50" stroke="#a83e8c" stroke-width="0.8"/>
<line x1="63.50" y1="157.00" x2="63.50" y2="161.00" stroke="#a83e8c" stroke-width="0.8"/>
<line x1="61.28" y1="157.50" x2="64.88" y2="157.50" stroke="#a83e8c" stroke-width="0.8"/>
<line x1="61.28" y1="161.50" x2="64.88" y2="161.50" stroke="#a83e8c" stroke-width="0.8"/>
<line x1="77.50" y1="167.00" x2="77.50" y2="172.00" stroke="#a83e8c" stroke-width="0.8"/>
<line x1="76.06" y1="167.50" x2="79.66" y2="167.50" stroke="#a83e8c" stroke-width="0.8"/>
<line x1="76.06" y1="172.50" x2="79.66" y2="172.50" stroke="#a83e8c" stroke-width="0.8"/>
<polyline points="51.99,217.00 129.60,170.75" fill="none" stroke="#3a5ca4" stroke-width="0.9" stroke-linejoin="round"/>
<line x1="129.50" y1="156.50" x2="129.50" y2="186.50" stroke="#3a5ca4" stroke-width="0.8"/>
<line x1="127.80" y1="156.50" x2="131.40" y2="156.50" stroke="#3a5ca4" stroke-width="0.8"/>
<line x1="127.80" y1="186.50" x2="131.40" y2="186.50" stroke="#3a5ca4" stroke-width="0.8"/>
<circle cx="129.60" cy="170.75" r="1.2" fill="#3a5ca4"/>
<polyline points="51.99,217.00 129.60,197.75" fill="none" stroke="#a02c38" stroke-width="0.9" stroke-linejoin="round"/>
<circle cx="129.60" cy="197.75" r="1.2" fill="#a02c38"/>
<circle cx="51.99" cy="217.00" r="1.3" fill="#3d2466"/>
<line x1="172.90" y1="174.50" x2="182.30" y2="174.50" stroke="#a83e8c" stroke-width="0.8"/>
<circle cx="177.60" cy="174.30" r="1.4" fill="#a83e8c"/>
<text x="186.30" y="176.40" font-size="6.3" text-anchor="start" fill="#222" stroke="#222" stroke-width="0.22">Blood conc.</text>
<line x1="172.90" y1="183.50" x2="182.30" y2="183.50" stroke="#3a5ca4" stroke-width="0.8"/>
<circle cx="177.60" cy="183.10" r="1.4" fill="#3a5ca4"/>
<text x="186.30" y="185.20" font-size="6.3" text-anchor="start" fill="#222" stroke="#222" stroke-width="0.22">Free KRAS<tspan font-size="3.8" dy="-2">G12C</tspan></text>
<line x1="172.90" y1="192.50" x2="182.30" y2="192.50" stroke="#a02c38" stroke-width="0.8"/>
<circle cx="177.60" cy="192.60" r="1.4" fill="#a02c38"/>
<text x="186.30" y="194.70" font-size="6.3" text-anchor="start" fill="#222" stroke="#222" stroke-width="0.22">DUSP6 expression</text>
<text x="262.80" y="142.30" font-size="12.3" text-anchor="start" font-weight="bold" fill="#000" stroke="#000" stroke-width="0.2">D</text>
<text x="358.80" y="143.00" font-size="6.4" text-anchor="middle" font-weight="bold" fill="#111" stroke="#111" stroke-width="0.2">JDQ443 + TNO155 5 mg/kg</text>
<text x="358.90" y="149.00" font-size="6.4" text-anchor="middle" font-weight="bold" fill="#111" stroke="#111" stroke-width="0.2">BID Day 36</text>
<line x1="307.50" y1="152.30" x2="307.50" y2="221.25" stroke="#222" stroke-width="1.0"/>
<line x1="307.90" y1="221.50" x2="305.10" y2="221.50" stroke="#222" stroke-width="0.8"/>
<line x1="307.90" y1="207.50" x2="305.10" y2="207.50" stroke="#222" stroke-width="0.8"/>
<line x1="307.90" y1="193.50" x2="305.10" y2="193.50" stroke="#222" stroke-width="0.8"/>
<line x1="307.90" y1="179.50" x2="305.10" y2="179.50" stroke="#222" stroke-width="0.8"/>
<line x1="307.90" y1="166.50" x2="305.10" y2="166.50" stroke="#222" stroke-width="0.8"/>
<line x1="307.90" y1="152.50" x2="305.10" y2="152.50" stroke="#222" stroke-width="0.8"/>
<text x="303.00" y="223.35" font-size="6.3" text-anchor="end" fill="#222" stroke="#222" stroke-width="0.22">0.0001</text>
<text x="303.00" y="209.56" font-size="6.3" text-anchor="end" fill="#222" stroke="#222" stroke-width="0.22">0.001</text>
<text x="303.00" y="195.77" font-size="6.3" text-anchor="end" fill="#222" stroke="#222" stroke-width="0.22">0.01</text>
<text x="303.00" y="181.98" font-size="6.3" text-anchor="end" fill="#222" stroke="#222" stroke-width="0.22">0.1</text>
<text x="303.00" y="168.19" font-size="6.3" text-anchor="end" fill="#222" stroke="#222" stroke-width="0.22">1</text>
<text x="303.00" y="154.40" font-size="6.3" text-anchor="end" fill="#222" stroke="#222" stroke-width="0.22">10</text>
<line x1="407.50" y1="152.30" x2="407.50" y2="221.25" stroke="#222" stroke-width="1.0"/>
<line x1="407.00" y1="221.50" x2="409.80" y2="221.50" stroke="#222" stroke-width="0.8"/>
<line x1="407.00" y1="214.50" x2="409.80" y2="214.50" stroke="#222" stroke-width="0.8"/>
<line x1="407.00" y1="208.50" x2="409.80" y2="208.50" stroke="#222" stroke-width="0.8"/>
<line x1="407.00" y1="202.50" x2="409.80" y2="202.50" stroke="#222" stroke-width="0.8"/>
<line x1="407.00" y1="196.50" x2="409.80" y2="196.50" stroke="#222" stroke-width="0.8"/>
<line x1="407.00" y1="189.50" x2="409.80" y2="189.50" stroke="#222" stroke-width="0.8"/>
<line x1="407.00" y1="183.50" x2="409.80" y2="183.50" stroke="#222" stroke-width="0.8"/>
<line x1="407.00" y1="177.50" x2="409.80" y2="177.50" stroke="#222" stroke-width="0.8"/>
<line x1="407.00" y1="171.50" x2="409.80" y2="171.50" stroke="#222" stroke-width="0.8"/>
<line x1="407.00" y1="164.50" x2="409.80" y2="164.50" stroke="#222" stroke-width="0.8"/>
<line x1="407.00" y1="158.50" x2="409.80" y2="158.50" stroke="#222" stroke-width="0.8"/>
<line x1="407.00" y1="152.50" x2="409.80" y2="152.50" stroke="#222" stroke-width="0.8"/>
<text x="411.90" y="223.35" font-size="6.3" text-anchor="start" fill="#222" stroke="#222" stroke-width="0.22">0</text>
<text x="411.90" y="217.08" font-size="6.3" text-anchor="start" fill="#222" stroke="#222" stroke-width="0.22">40</text>
<text x="411.90" y="210.81" font-size="6.3" text-anchor="start" fill="#222" stroke="#222" stroke-width="0.22">80</text>
<text x="411.90" y="204.55" font-size="6.3" text-anchor="start" fill="#222" stroke="#222" stroke-width="0.22">120</text>
<text x="411.90" y="198.28" font-size="6.3" text-anchor="start" fill="#222" stroke="#222" stroke-width="0.22">160</text>
<text x="411.90" y="192.01" font-size="6.3" text-anchor="start" fill="#222" stroke="#222" stroke-width="0.22">200</text>
<text x="411.90" y="185.74" font-size="6.3" text-anchor="start" fill="#222" stroke="#222" stroke-width="0.22">240</text>
<text x="411.90" y="179.47" font-size="6.3" text-anchor="start" fill="#222" stroke="#222" stroke-width="0.22">280</text>
<text x="411.90" y="173.20" font-size="6.3" text-anchor="start" fill="#222" stroke="#222" stroke-width="0.22">320</text>
<text x="411.90" y="166.94" font-size="6.3" text-anchor="start" fill="#222" stroke="#222" stroke-width="0.22">360</text>
<text x="411.90" y="160.67" font-size="6.3" text-anchor="start" fill="#222" stroke="#222" stroke-width="0.22">400</text>
<text x="411.90" y="154.40" font-size="6.3" text-anchor="start" fill="#222" stroke="#222" stroke-width="0.22">440</text>
<line x1="307.90" y1="221.50" x2="407.00" y2="221.50" stroke="#222" stroke-width="1.0"/>
<line x1="311.50" y1="221.25" x2="311.50" y2="224.45" stroke="#222" stroke-width="0.8"/>
<line x1="319.50" y1="221.25" x2="319.50" y2="224.45" stroke="#222" stroke-width="0.8"/>
<line x1="331.50" y1="221.25" x2="331.50" y2="224.45" stroke="#222" stroke-width="0.8"/>
<line x1="347.50" y1="221.25" x2="347.50" y2="224.45" stroke="#222" stroke-width="0.8"/>
<line x1="405.50" y1="221.25" x2="405.50" y2="224.45" stroke="#222" stroke-width="0.8"/>
<text x="311.25" y="231.00" font-size="6.3" text-anchor="middle" fill="#222" stroke="#222" stroke-width="0.22">1</text>
<text x="319.40" y="231.00" font-size="6.3" text-anchor="middle" fill="#222" stroke="#222" stroke-width="0.22">3</text>
<text x="331.63" y="231.00" font-size="6.3" text-anchor="middle" fill="#222" stroke="#222" stroke-width="0.22">6</text>
<text x="347.93" y="231.00" font-size="6.3" text-anchor="middle" fill="#222" stroke="#222" stroke-width="0.22">10</text>
<text x="405.00" y="231.00" font-size="6.3" text-anchor="middle" fill="#222" stroke="#222" stroke-width="0.22">24</text>
<text x="353.50" y="239.50" font-size="6.3" text-anchor="middle" font-weight="bold" fill="#111" stroke="#111" stroke-width="0.2">Time posttreatment (h)</text>
<text x="274.60" y="187.90" font-size="6.3" text-anchor="middle" font-weight="bold" fill="#111" stroke="#111" stroke-width="0.2" transform="rotate(-90 274.6 187.9)">Blood Conc (µmol/L)</text>
<text x="439.90" y="185.00" font-size="6.3" text-anchor="middle" font-weight="bold" fill="#111" stroke="#111" stroke-width="0.2" transform="rotate(90 439.9 185)">%Free Kras<tspan font-size="3.8" dy="-2">G12C</tspan></text>
<text x="433.80" y="185.00" font-size="6.3" text-anchor="middle" font-weight="bold" fill="#111" stroke="#111" stroke-width="0.2" transform="rotate(90 433.8 185)">%DUSP6 expression</text>
<polyline points="311.25,155.75 319.40,159.50 331.63,163.25 347.93,164.50 405.00,200.30" fill="none" stroke="#a83e8c" stroke-width="0.9" stroke-linejoin="round"/>
<circle cx="311.25" cy="155.75" r="1.3" fill="#a83e8c"/>
<circle cx="319.40" cy="159.50" r="1.3" fill="#a83e8c"/>
<circle cx="331.63" cy="163.25" r="1.3" fill="#a83e8c"/>
<circle cx="347.93" cy="164.50" r="1.3" fill="#a83e8c"/>
<circle cx="405.00" cy="200.30" r="1.3" fill="#a83e8c"/>
<line x1="311.50" y1="152.50" x2="311.50" y2="159.00" stroke="#a83e8c" stroke-width="0.8"/>
<line x1="309.45" y1="152.50" x2="313.05" y2="152.50" stroke="#a83e8c" stroke-width="0.8"/>
<line x1="309.45" y1="159.50" x2="313.05" y2="159.50" stroke="#a83e8c" stroke-width="0.8"/>
<line x1="319.50" y1="158.00" x2="319.50" y2="161.00" stroke="#a83e8c" stroke-width="0.8"/>
<line x1="317.60" y1="158.50" x2="321.20" y2="158.50" stroke="#a83e8c" stroke-width="0.8"/>
<line x1="317.60" y1="161.50" x2="321.20" y2="161.50" stroke="#a83e8c" stroke-width="0.8"/>
<line x1="347.50" y1="162.00" x2="347.50" y2="167.00" stroke="#a83e8c" stroke-width="0.8"/>
<line x1="346.13" y1="162.50" x2="349.73" y2="162.50" stroke="#a83e8c" stroke-width="0.8"/>
<line x1="346.13" y1="167.50" x2="349.73" y2="167.50" stroke="#a83e8c" stroke-width="0.8"/>
<line x1="405.50" y1="198.00" x2="405.50" y2="202.00" stroke="#a83e8c" stroke-width="0.8"/>
<line x1="403.20" y1="198.50" x2="406.80" y2="198.50" stroke="#a83e8c" stroke-width="0.8"/>
<line x1="403.20" y1="202.50" x2="406.80" y2="202.50" stroke="#a83e8c" stroke-width="0.8"/>
<polyline points="319.40,205.25 405.00,177.00" fill="none" stroke="#3a5ca4" stroke-width="0.9" stroke-linejoin="round"/>
<line x1="319.50" y1="198.25" x2="319.50" y2="216.25" stroke="#3a5ca4" stroke-width="0.8"/>
<line x1="317.60" y1="198.50" x2="321.20" y2="198.50" stroke="#3a5ca4" stroke-width="0.8"/>
<line x1="317.60" y1="216.50" x2="321.20" y2="216.50" stroke="#3a5ca4" stroke-width="0.8"/>
<line x1="405.50" y1="156.50" x2="405.50" y2="177.00" stroke="#3a5ca4" stroke-width="0.8"/>
<line x1="403.20" y1="156.50" x2="406.80" y2="156.50" stroke="#3a5ca4" stroke-width="0.8"/>
<line x1="403.20" y1="177.50" x2="406.80" y2="177.50" stroke="#3a5ca4" stroke-width="0.8"/>
<circle cx="319.40" cy="205.25" r="1.2" fill="#3a5ca4"/>
<circle cx="405.00" cy="177.00" r="1.2" fill="#3a5ca4"/>
<polyline points="319.40,214.50 405.00,186.20" fill="none" stroke="#a02c38" stroke-width="0.9" stroke-linejoin="round"/>
<line x1="319.50" y1="212.00" x2="319.50" y2="216.50" stroke="#a02c38" stroke-width="0.8"/>
<line x1="317.60" y1="212.50" x2="321.20" y2="212.50" stroke="#a02c38" stroke-width="0.8"/>
<line x1="317.60" y1="216.50" x2="321.20" y2="216.50" stroke="#a02c38" stroke-width="0.8"/>
<circle cx="319.40" cy="214.50" r="1.3" fill="#a02c38"/>
<circle cx="405.00" cy="186.20" r="1.2" fill="#a02c38"/>
<line x1="405.50" y1="186.20" x2="405.50" y2="195.60" stroke="#a02c38" stroke-width="0.8"/>
<line x1="403.20" y1="186.50" x2="406.80" y2="186.50" stroke="#a02c38" stroke-width="0.8"/>
<line x1="403.20" y1="195.50" x2="406.80" y2="195.50" stroke="#a02c38" stroke-width="0.8"/>
<line x1="452.50" y1="178.50" x2="462.90" y2="178.50" stroke="#a83e8c" stroke-width="0.8"/>
<circle cx="457.70" cy="178.75" r="1.4" fill="#a83e8c"/>
<text x="467.00" y="180.85" font-size="6.4" text-anchor="start" fill="#222" stroke="#222" stroke-width="0.22">Blood conc.</text>
<line x1="452.50" y1="187.50" x2="462.90" y2="187.50" stroke="#3a5ca4" stroke-width="0.8"/>
<circle cx="457.70" cy="187.00" r="1.4" fill="#3a5ca4"/>
<text x="467.00" y="189.10" font-size="6.4" text-anchor="start" fill="#222" stroke="#222" stroke-width="0.22">Free KRAS<tspan font-size="3.8" dy="-2">G12C</tspan></text>
<line x1="452.50" y1="195.50" x2="462.90" y2="195.50" stroke="#a02c38" stroke-width="0.8"/>
<circle cx="457.70" cy="195.20" r="1.4" fill="#a02c38"/>
<text x="467.00" y="197.30" font-size="6.4" text-anchor="start" fill="#222" stroke="#222" stroke-width="0.22">DUSP6 expression</text>
<text x="0.20" y="267.60" font-size="12.3" text-anchor="start" font-weight="bold" fill="#000" stroke="#000" stroke-width="0.2">E</text>
<text x="97.25" y="266.30" font-size="6.3" text-anchor="middle" font-weight="bold" fill="#111" stroke="#111" stroke-width="0.2">Total KRAS (Peptide KRAS1)</text>
<line x1="39.50" y1="276.55" x2="39.50" y2="360.80" stroke="#222" stroke-width="1.0"/>
<line x1="39.10" y1="360.50" x2="35.80" y2="360.50" stroke="#222" stroke-width="0.8"/>
<line x1="39.10" y1="343.50" x2="35.80" y2="343.50" stroke="#222" stroke-width="0.8"/>
<line x1="39.10" y1="327.50" x2="35.80" y2="327.50" stroke="#222" stroke-width="0.8"/>
<line x1="39.10" y1="310.50" x2="35.80" y2="310.50" stroke="#222" stroke-width="0.8"/>
<line x1="39.10" y1="293.50" x2="35.80" y2="293.50" stroke="#222" stroke-width="0.8"/>
<line x1="39.10" y1="276.50" x2="35.80" y2="276.50" stroke="#222" stroke-width="0.8"/>
<line x1="39.10" y1="352.50" x2="37.40" y2="352.50" stroke="#222" stroke-width="0.8"/>
<line x1="39.10" y1="335.50" x2="37.40" y2="335.50" stroke="#222" stroke-width="0.8"/>
<line x1="39.10" y1="318.50" x2="37.40" y2="318.50" stroke="#222" stroke-width="0.8"/>
<line x1="39.10" y1="301.50" x2="37.40" y2="301.50" stroke="#222" stroke-width="0.8"/>
<line x1="39.10" y1="284.50" x2="37.40" y2="284.50" stroke="#222" stroke-width="0.8"/>
<text x="32.50" y="362.90" font-size="6.3" text-anchor="end" fill="#222" stroke="#222" stroke-width="0.22">0</text>
<text x="32.50" y="346.05" font-size="6.3" text-anchor="end" fill="#222" stroke="#222" stroke-width="0.22">1</text>
<text x="32.50" y="329.20" font-size="6.3" text-anchor="end" fill="#222" stroke="#222" stroke-width="0.22">2</text>
<text x="32.50" y="312.35" font-size="6.3" text-anchor="end" fill="#222" stroke="#222" stroke-width="0.22">3</text>
<text x="32.50" y="295.50" font-size="6.3" text-anchor="end" fill="#222" stroke="#222" stroke-width="0.22">4</text>
<text x="32.50" y="278.65" font-size="6.3" text-anchor="end" fill="#222" stroke="#222" stroke-width="0.22">5</text>
<line x1="39.10" y1="360.50" x2="157.00" y2="360.50" stroke="#222" stroke-width="1.0"/>
<line x1="57.50" y1="360.80" x2="57.50" y2="364.00" stroke="#222" stroke-width="0.8"/>
<line x1="85.50" y1="360.80" x2="85.50" y2="364.00" stroke="#222" stroke-width="0.8"/>
<line x1="112.50" y1="360.80" x2="112.50" y2="364.00" stroke="#222" stroke-width="0.8"/>
<line x1="139.50" y1="360.80" x2="139.50" y2="364.00" stroke="#222" stroke-width="0.8"/>
<text x="57.60" y="372.60" font-size="6.3" text-anchor="middle" fill="#222" stroke="#222" stroke-width="0.22">d14</text>
<text x="85.60" y="372.60" font-size="6.3" text-anchor="middle" fill="#222" stroke="#222" stroke-width="0.22">d21</text>
<text x="112.30" y="372.60" font-size="6.3" text-anchor="middle" fill="#222" stroke="#222" stroke-width="0.22">d21</text>
<text x="139.20" y="372.60" font-size="6.3" text-anchor="middle" fill="#222" stroke="#222" stroke-width="0.22">d36</text>
<text x="10.50" y="321.50" font-size="6.3" text-anchor="middle" font-weight="bold" fill="#111" stroke="#111" stroke-width="0.2" transform="rotate(-90 10.5 321.5)">Normalized</text>
<text x="17.00" y="321.50" font-size="6.3" text-anchor="middle" font-weight="bold" fill="#111" stroke="#111" stroke-width="0.2" transform="rotate(-90 17 321.5)">peptide intensity</text>
<line x1="56.60" y1="338.50" x2="85.60" y2="338.50" stroke="#333" stroke-width="0.8"/>
<line x1="56.50" y1="338.00" x2="56.50" y2="341.20" stroke="#333" stroke-width="0.8"/>
<line x1="85.50" y1="338.00" x2="85.50" y2="341.20" stroke="#333" stroke-width="0.8"/>
<text x="70.50" y="332.40" font-size="6.2" text-anchor="middle" fill="#1a1a1a" stroke="#1a1a1a" stroke-width="0.22">ns</text>
<line x1="56.60" y1="320.50" x2="113.00" y2="320.50" stroke="#333" stroke-width="0.8"/>
<line x1="56.50" y1="320.00" x2="56.50" y2="323.20" stroke="#333" stroke-width="0.8"/>
<line x1="113.50" y1="320.00" x2="113.50" y2="323.20" stroke="#333" stroke-width="0.8"/>
<text x="84.00" y="318.70" font-size="5.5" text-anchor="middle" fill="#222" stroke="#222" stroke-width="0.22">*</text>
<line x1="57.00" y1="277.50" x2="140.00" y2="277.50" stroke="#333" stroke-width="0.8"/>
<line x1="57.50" y1="277.25" x2="57.50" y2="280.45" stroke="#333" stroke-width="0.8"/>
<line x1="140.50" y1="277.25" x2="140.50" y2="280.45" stroke="#333" stroke-width="0.8"/>
<text x="98.60" y="275.00" font-size="5.5" text-anchor="middle" fill="#222" stroke="#222" stroke-width="0.22">*</text>
<circle cx="50.00" cy="352.00" r="1.6" fill="#151515"/>
<circle cx="57.00" cy="349.00" r="1.6" fill="#151515"/>
<circle cx="57.00" cy="355.50" r="1.6" fill="#151515"/>
<circle cx="64.50" cy="352.00" r="1.6" fill="#151515"/>
<circle cx="57.00" cy="352.50" r="1.6" fill="#151515"/>
<line x1="48.75" y1="352.50" x2="66.25" y2="352.50" stroke="#151515" stroke-width="0.9"/>
<line x1="57.50" y1="349.00" x2="57.50" y2="356.00" stroke="#151515" stroke-width="0.9"/>
<line x1="75.50" y1="354.50" x2="93.70" y2="354.50" stroke="#48a448" stroke-width="0.9"/>
<rect x="75.25" y="352.75" width="2.7" height="2.7" fill="#48a448"/>
<rect x="79.95" y="350.45" width="2.7" height="2.7" fill="#48a448"/>
<rect x="83.35" y="353.05" width="2.7" height="2.7" fill="#48a448"/>
<rect x="87.15" y="352.25" width="2.7" height="2.7" fill="#48a448"/>
<rect x="91.45" y="354.25" width="2.7" height="2.7" fill="#48a448"/>
<circle cx="109.60" cy="336.90" r="1.6" fill="#a82830"/>
<circle cx="116.20" cy="339.40" r="1.6" fill="#a82830"/>
<circle cx="109.60" cy="344.20" r="1.6" fill="#a82830"/>
<circle cx="116.20" cy="345.80" r="1.6" fill="#a82830"/>
<circle cx="112.90" cy="350.00" r="1.6" fill="#a82830"/>
<line x1="103.80" y1="344.50" x2="122.50" y2="344.50" stroke="#a82830" stroke-width="0.9"/>
<circle cx="136.70" cy="282.60" r="1.6" fill="#56407a"/>
<circle cx="143.60" cy="284.90" r="1.6" fill="#56407a"/>
<circle cx="140.40" cy="301.20" r="1.6" fill="#56407a"/>
<circle cx="140.40" cy="305.40" r="1.6" fill="#56407a"/>
<circle cx="140.40" cy="310.30" r="1.6" fill="#56407a"/>
<line x1="131.00" y1="301.50" x2="150.00" y2="301.50" stroke="#3a2e50" stroke-width="1.0"/>
<circle cx="166.75" cy="292.00" r="1.4" fill="#151515"/>
<text x="174.50" y="294.10" font-size="6.4" text-anchor="start" fill="#222" stroke="#222" stroke-width="0.22">Vehicle</text>
<rect x="165.50" y="301.50" width="2.5" height="2.5" fill="#55b04c"/>
<text x="174.50" y="304.85" font-size="6.4" text-anchor="start" fill="#222" stroke="#222" stroke-width="0.22">TNO155 10 mg/kg BID</text>
<circle cx="166.75" cy="314.00" r="1.4" fill="#b02a38"/>
<text x="174.50" y="316.10" font-size="6.4" text-anchor="start" fill="#222" stroke="#222" stroke-width="0.22">JDQ443 100 mg/kg QD</text>
<circle cx="166.75" cy="328.00" r="1.4" fill="#56407a"/>
<text x="174.50" y="326.60" font-size="6.4" text-anchor="start" fill="#222" stroke="#222" stroke-width="0.22">JDQ443 100 mg/kg QD</text>
<text x="174.50" y="333.10" font-size="6.4" text-anchor="start" fill="#222" stroke="#222" stroke-width="0.22">+ TNO155 5 mg/kg BID</text>
<text x="262.80" y="267.70" font-size="12.3" text-anchor="start" font-weight="bold" fill="#000" stroke="#000" stroke-width="0.2">F</text>
<text x="368.50" y="266.50" font-size="6.3" text-anchor="middle" font-weight="bold" fill="#111" stroke="#111" stroke-width="0.2">KRAS/HRAS/NRAS (Wild-type)</text>
<line x1="304.50" y1="277.75" x2="304.50" y2="361.00" stroke="#222" stroke-width="1.0"/>
<line x1="304.00" y1="361.50" x2="301.20" y2="361.50" stroke="#222" stroke-width="0.8"/>
<line x1="304.00" y1="344.50" x2="301.20" y2="344.50" stroke="#222" stroke-width="0.8"/>
<line x1="304.00" y1="327.50" x2="301.20" y2="327.50" stroke="#222" stroke-width="0.8"/>
<line x1="304.00" y1="311.50" x2="301.20" y2="311.50" stroke="#222" stroke-width="0.8"/>
<line x1="304.00" y1="294.50" x2="301.20" y2="294.50" stroke="#222" stroke-width="0.8"/>
<line x1="304.00" y1="277.50" x2="301.20" y2="277.50" stroke="#222" stroke-width="0.8"/>
<line x1="304.00" y1="352.50" x2="302.30" y2="352.50" stroke="#222" stroke-width="0.8"/>
<line x1="304.00" y1="336.50" x2="302.30" y2="336.50" stroke="#222" stroke-width="0.8"/>
<line x1="304.00" y1="319.50" x2="302.30" y2="319.50" stroke="#222" stroke-width="0.8"/>
<line x1="304.00" y1="302.50" x2="302.30" y2="302.50" stroke="#222" stroke-width="0.8"/>
<line x1="304.00" y1="286.50" x2="302.30" y2="286.50" stroke="#222" stroke-width="0.8"/>
<text x="299.10" y="363.10" font-size="6.3" text-anchor="end" fill="#222" stroke="#222" stroke-width="0.22">0.0</text>
<text x="299.10" y="346.45" font-size="6.3" text-anchor="end" fill="#222" stroke="#222" stroke-width="0.22">0.2</text>
<text x="299.10" y="329.80" font-size="6.3" text-anchor="end" fill="#222" stroke="#222" stroke-width="0.22">0.4</text>
<text x="299.10" y="313.15" font-size="6.3" text-anchor="end" fill="#222" stroke="#222" stroke-width="0.22">0.6</text>
<text x="299.10" y="296.50" font-size="6.3" text-anchor="end" fill="#222" stroke="#222" stroke-width="0.22">0.8</text>
<text x="299.10" y="279.85" font-size="6.3" text-anchor="end" fill="#222" stroke="#222" stroke-width="0.22">1.0</text>
<line x1="304.00" y1="361.50" x2="435.00" y2="361.50" stroke="#222" stroke-width="1.0"/>
<line x1="325.50" y1="361.00" x2="325.50" y2="364.20" stroke="#222" stroke-width="0.8"/>
<line x1="355.50" y1="361.00" x2="355.50" y2="364.20" stroke="#222" stroke-width="0.8"/>
<line x1="386.50" y1="361.00" x2="386.50" y2="364.20" stroke="#222" stroke-width="0.8"/>
<line x1="415.50" y1="361.00" x2="415.50" y2="364.20" stroke="#222" stroke-width="0.8"/>
<text x="325.00" y="372.80" font-size="6.3" text-anchor="middle" fill="#222" stroke="#222" stroke-width="0.22">d14</text>
<text x="355.75" y="372.80" font-size="6.3" text-anchor="middle" fill="#222" stroke="#222" stroke-width="0.22">d21</text>
<text x="386.25" y="372.80" font-size="6.3" text-anchor="middle" fill="#222" stroke="#222" stroke-width="0.22">d21</text>
<text x="415.75" y="372.80" font-size="6.3" text-anchor="middle" fill="#222" stroke="#222" stroke-width="0.22">d36</text>
<text x="271.20" y="321.50" font-size="6.3" text-anchor="middle" font-weight="bold" fill="#111" stroke="#111" stroke-width="0.2" transform="rotate(-90 271.2 321.5)">Normalized</text>
<text x="277.80" y="321.50" font-size="6.3" text-anchor="middle" font-weight="bold" fill="#111" stroke="#111" stroke-width="0.2" transform="rotate(-90 277.8 321.5)">peptide intensity</text>
<line x1="325.00" y1="279.50" x2="385.60" y2="279.50" stroke="#2a2a2a" stroke-width="0.9"/>
<line x1="325.50" y1="279.75" x2="325.50" y2="282.90" stroke="#2a2a2a" stroke-width="0.9"/>
<line x1="385.50" y1="279.75" x2="385.50" y2="283.50" stroke="#2a2a2a" stroke-width="0.9"/>
<line x1="358.00" y1="284.50" x2="416.25" y2="284.50" stroke="#2a2a2a" stroke-width="0.9"/>
<text x="355.50" y="275.60" font-size="6.3" text-anchor="middle" fill="#1a1a1a" stroke="#1a1a1a" stroke-width="0.22">ns</text>
<circle cx="316.25" cy="304.00" r="1.6" fill="#151515"/>
<circle cx="325.00" cy="297.25" r="1.6" fill="#151515"/>
<circle cx="325.00" cy="306.00" r="1.6" fill="#151515"/>
<circle cx="333.00" cy="306.00" r="1.6" fill="#151515"/>
<circle cx="325.00" cy="325.25" r="1.6" fill="#151515"/>
<line x1="314.50" y1="307.50" x2="335.50" y2="307.50" stroke="#151515" stroke-width="0.9"/>
<line x1="345.00" y1="313.50" x2="366.25" y2="313.50" stroke="#48a448" stroke-width="0.9"/>
<rect x="350.65" y="309.65" width="2.7" height="2.7" fill="#48a448"/>
<rect x="353.65" y="304.40" width="2.7" height="2.7" fill="#48a448"/>
<rect x="357.40" y="308.15" width="2.7" height="2.7" fill="#48a448"/>
<rect x="357.90" y="312.15" width="2.7" height="2.7" fill="#48a448"/>
<rect x="353.65" y="325.65" width="2.7" height="2.7" fill="#48a448"/>
<circle cx="386.25" cy="291.50" r="1.6" fill="#a82830"/>
<circle cx="386.00" cy="300.25" r="1.6" fill="#a82830"/>
<circle cx="386.00" cy="308.50" r="1.6" fill="#a82830"/>
<circle cx="386.00" cy="314.75" r="1.6" fill="#a82830"/>
<circle cx="386.00" cy="320.25" r="1.6" fill="#a82830"/>
<line x1="375.00" y1="307.50" x2="396.50" y2="307.50" stroke="#a82830" stroke-width="0.9"/>
<circle cx="407.50" cy="313.25" r="1.6" fill="#56407a"/>
<circle cx="415.75" cy="314.50" r="1.6" fill="#56407a"/>
<circle cx="424.25" cy="313.25" r="1.6" fill="#56407a"/>
<circle cx="415.75" cy="319.50" r="1.6" fill="#56407a"/>
<circle cx="415.75" cy="324.00" r="1.6" fill="#56407a"/>
<line x1="405.50" y1="317.50" x2="427.00" y2="317.50" stroke="#3a2e50" stroke-width="1.0"/>
<circle cx="445.50" cy="292.75" r="1.4" fill="#151515"/>
<text x="453.75" y="294.85" font-size="6.4" text-anchor="start" fill="#222" stroke="#222" stroke-width="0.22">Vehicle</text>
<rect x="444.25" y="302.00" width="2.5" height="2.5" fill="#55b04c"/>
<text x="453.75" y="305.35" font-size="6.4" text-anchor="start" fill="#222" stroke="#222" stroke-width="0.22">TNO155 10 mg/kg BID</text>
<circle cx="445.50" cy="314.00" r="1.4" fill="#b02a38"/>
<text x="453.75" y="316.10" font-size="6.4" text-anchor="start" fill="#222" stroke="#222" stroke-width="0.22">JDQ443 100 mg/kg QD</text>
<circle cx="445.50" cy="328.00" r="1.4" fill="#56407a"/>
<text x="453.75" y="326.85" font-size="6.4" text-anchor="start" fill="#222" stroke="#222" stroke-width="0.22">JDQ443 100 mg/kg QD</text>
<text x="453.75" y="333.35" font-size="6.4" text-anchor="start" fill="#222" stroke="#222" stroke-width="0.22">+ TNO155 5 mg/kg BID</text>
<text x="0.50" y="398.80" font-size="12.3" text-anchor="start" font-weight="bold" fill="#000" stroke="#000" stroke-width="0.2">G</text>
<line x1="34.50" y1="402.40" x2="34.50" y2="493.20" stroke="#222" stroke-width="1.0"/>
<line x1="34.20" y1="493.50" x2="31.40" y2="493.50" stroke="#222" stroke-width="0.8"/>
<line x1="34.20" y1="462.50" x2="31.40" y2="462.50" stroke="#222" stroke-width="0.8"/>
<line x1="34.20" y1="432.50" x2="31.40" y2="432.50" stroke="#222" stroke-width="0.8"/>
<line x1="34.20" y1="402.50" x2="31.40" y2="402.50" stroke="#222" stroke-width="0.8"/>
<line x1="34.20" y1="478.50" x2="32.50" y2="478.50" stroke="#222" stroke-width="0.8"/>
<line x1="34.20" y1="447.50" x2="32.50" y2="447.50" stroke="#222" stroke-width="0.8"/>
<line x1="34.20" y1="417.50" x2="32.50" y2="417.50" stroke="#222" stroke-width="0.8"/>
<text x="29.30" y="495.30" font-size="6.3" text-anchor="end" fill="#222" stroke="#222" stroke-width="0.22">0</text>
<text x="29.30" y="465.03" font-size="6.3" text-anchor="end" fill="#222" stroke="#222" stroke-width="0.22">5</text>
<text x="29.30" y="434.77" font-size="6.3" text-anchor="end" fill="#222" stroke="#222" stroke-width="0.22">10</text>
<text x="29.30" y="404.50" font-size="6.3" text-anchor="end" fill="#222" stroke="#222" stroke-width="0.22">15</text>
<line x1="34.20" y1="493.50" x2="159.00" y2="493.50" stroke="#222" stroke-width="1.0"/>
<line x1="54.50" y1="493.20" x2="54.50" y2="496.40" stroke="#222" stroke-width="0.8"/>
<line x1="82.50" y1="493.20" x2="82.50" y2="496.40" stroke="#222" stroke-width="0.8"/>
<line x1="111.50" y1="493.20" x2="111.50" y2="496.40" stroke="#222" stroke-width="0.8"/>
<line x1="140.50" y1="493.20" x2="140.50" y2="496.40" stroke="#222" stroke-width="0.8"/>
<text x="54.30" y="505.20" font-size="6.3" text-anchor="middle" fill="#222" stroke="#222" stroke-width="0.22">d14</text>
<text x="82.70" y="505.20" font-size="6.3" text-anchor="middle" fill="#222" stroke="#222" stroke-width="0.22">d21</text>
<text x="111.50" y="505.20" font-size="6.3" text-anchor="middle" fill="#222" stroke="#222" stroke-width="0.22">d21</text>
<text x="140.40" y="505.20" font-size="6.3" text-anchor="middle" fill="#222" stroke="#222" stroke-width="0.22">d36</text>
<text x="11.00" y="447.90" font-size="6.3" text-anchor="middle" font-weight="bold" fill="#111" stroke="#111" stroke-width="0.2" transform="rotate(-90 11 447.9)">Fold KRAS</text>
<text x="16.00" y="447.70" font-size="6.3" text-anchor="middle" font-weight="bold" fill="#111" stroke="#111" stroke-width="0.2" transform="rotate(-90 16 447.7)">amplification</text>
<line x1="54.80" y1="397.50" x2="140.00" y2="397.50" stroke="#2a2a2a" stroke-width="0.9"/>
<line x1="54.50" y1="397.30" x2="54.50" y2="401.00" stroke="#2a2a2a" stroke-width="0.9"/>
<line x1="140.50" y1="397.30" x2="140.50" y2="401.00" stroke="#2a2a2a" stroke-width="0.9"/>
<text x="98.00" y="397.50" font-size="5" text-anchor="middle" fill="#333" stroke="#333" stroke-width="0.22">*</text>
<line x1="57.80" y1="427.50" x2="97.20" y2="427.50" stroke="#2a2a2a" stroke-width="0.9"/>
<line x1="57.50" y1="427.50" x2="57.50" y2="433.30" stroke="#2a2a2a" stroke-width="0.9"/>
<line x1="97.50" y1="427.50" x2="97.50" y2="433.30" stroke="#2a2a2a" stroke-width="0.9"/>
<line x1="84.20" y1="433.50" x2="110.50" y2="433.50" stroke="#2a2a2a" stroke-width="0.9"/>
<text x="76.40" y="425.50" font-size="6.3" text-anchor="middle" fill="#1a1a1a" stroke="#1a1a1a" stroke-width="0.22">ns</text>
<circle cx="50.25" cy="460.10" r="1.6" fill="#151515"/>
<circle cx="57.30" cy="460.10" r="1.6" fill="#151515"/>
<circle cx="57.30" cy="466.40" r="1.6" fill="#151515"/>
<circle cx="54.80" cy="470.20" r="1.6" fill="#151515"/>
<circle cx="50.80" cy="465.50" r="1.6" fill="#151515"/>
<line x1="44.70" y1="465.50" x2="63.60" y2="465.50" stroke="#151515" stroke-width="0.9"/>
<line x1="73.40" y1="466.50" x2="92.50" y2="466.50" stroke="#48a448" stroke-width="0.9"/>
<rect x="78.05" y="459.45" width="2.7" height="2.7" fill="#48a448"/>
<rect x="84.45" y="460.65" width="2.7" height="2.7" fill="#48a448"/>
<rect x="78.05" y="465.25" width="2.7" height="2.7" fill="#48a448"/>
<rect x="84.45" y="467.65" width="2.7" height="2.7" fill="#48a448"/>
<rect x="81.05" y="472.45" width="2.7" height="2.7" fill="#48a448"/>
<circle cx="111.30" cy="454.40" r="1.6" fill="#a82830"/>
<circle cx="104.00" cy="460.80" r="1.6" fill="#a82830"/>
<circle cx="111.30" cy="462.60" r="1.6" fill="#a82830"/>
<circle cx="119.90" cy="463.40" r="1.6" fill="#a82830"/>
<circle cx="104.00" cy="465.50" r="1.6" fill="#a82830"/>
<line x1="101.90" y1="460.50" x2="121.00" y2="460.50" stroke="#a82830" stroke-width="0.9"/>
<circle cx="137.00" cy="413.70" r="1.6" fill="#56407a"/>
<circle cx="144.30" cy="411.70" r="1.6" fill="#56407a"/>
<circle cx="137.00" cy="420.00" r="1.6" fill="#56407a"/>
<circle cx="144.30" cy="418.70" r="1.6" fill="#56407a"/>
<line x1="132.00" y1="416.50" x2="150.00" y2="416.50" stroke="#3a2e50" stroke-width="1.0"/>
<circle cx="167.70" cy="427.50" r="1.4" fill="#151515"/>
<text x="176.00" y="429.60" font-size="6.4" text-anchor="start" fill="#222" stroke="#222" stroke-width="0.22">Vehicle</text>
<rect x="166.45" y="437.05" width="2.5" height="2.5" fill="#55b04c"/>
<text x="176.00" y="440.40" font-size="6.4" text-anchor="start" fill="#222" stroke="#222" stroke-width="0.22">TNO155 10 mg/kg BID</text>
<circle cx="167.70" cy="449.30" r="1.4" fill="#b02a38"/>
<text x="176.00" y="451.40" font-size="6.4" text-anchor="start" fill="#222" stroke="#222" stroke-width="0.22">JDQ443 100 mg/kg QD</text>
<circle cx="167.70" cy="463.40" r="1.4" fill="#56407a"/>
<text x="176.00" y="462.20" font-size="6.4" text-anchor="start" fill="#222" stroke="#222" stroke-width="0.22">JDQ443 100 mg/kg QD</text>
<text x="176.00" y="468.50" font-size="6.4" text-anchor="start" fill="#222" stroke="#222" stroke-width="0.22">+ TNO155 5 mg/kg BID</text>
<text x="262.80" y="398.80" font-size="12.3" text-anchor="start" font-weight="bold" fill="#000" stroke="#000" stroke-width="0.2">H</text>
<line x1="305.50" y1="398.60" x2="305.50" y2="484.50" stroke="#222" stroke-width="1.0"/>
<line x1="305.30" y1="484.50" x2="302.50" y2="484.50" stroke="#222" stroke-width="0.8"/>
<line x1="305.30" y1="467.50" x2="302.50" y2="467.50" stroke="#222" stroke-width="0.8"/>
<line x1="305.30" y1="450.50" x2="302.50" y2="450.50" stroke="#222" stroke-width="0.8"/>
<line x1="305.30" y1="432.50" x2="302.50" y2="432.50" stroke="#222" stroke-width="0.8"/>
<line x1="305.30" y1="415.50" x2="302.50" y2="415.50" stroke="#222" stroke-width="0.8"/>
<line x1="305.30" y1="398.50" x2="302.50" y2="398.50" stroke="#222" stroke-width="0.8"/>
<line x1="305.30" y1="475.50" x2="303.60" y2="475.50" stroke="#222" stroke-width="0.8"/>
<line x1="305.30" y1="458.50" x2="303.60" y2="458.50" stroke="#222" stroke-width="0.8"/>
<line x1="305.30" y1="441.50" x2="303.60" y2="441.50" stroke="#222" stroke-width="0.8"/>
<line x1="305.30" y1="424.50" x2="303.60" y2="424.50" stroke="#222" stroke-width="0.8"/>
<line x1="305.30" y1="407.50" x2="303.60" y2="407.50" stroke="#222" stroke-width="0.8"/>
<text x="300.40" y="486.60" font-size="6.3" text-anchor="end" fill="#222" stroke="#222" stroke-width="0.22">0</text>
<text x="300.40" y="469.42" font-size="6.3" text-anchor="end" fill="#222" stroke="#222" stroke-width="0.22">200</text>
<text x="300.40" y="452.24" font-size="6.3" text-anchor="end" fill="#222" stroke="#222" stroke-width="0.22">400</text>
<text x="300.40" y="435.06" font-size="6.3" text-anchor="end" fill="#222" stroke="#222" stroke-width="0.22">600</text>
<text x="300.40" y="417.88" font-size="6.3" text-anchor="end" fill="#222" stroke="#222" stroke-width="0.22">800</text>
<text x="300.40" y="400.70" font-size="6.3" text-anchor="end" fill="#222" stroke="#222" stroke-width="0.22">1,000</text>
<line x1="305.30" y1="484.50" x2="431.38" y2="484.50" stroke="#222" stroke-width="1.0"/>
<line x1="305.50" y1="484.50" x2="305.50" y2="487.70" stroke="#222" stroke-width="0.8"/>
<line x1="323.50" y1="484.50" x2="323.50" y2="487.70" stroke="#222" stroke-width="0.8"/>
<line x1="341.50" y1="484.50" x2="341.50" y2="487.70" stroke="#222" stroke-width="0.8"/>
<line x1="359.50" y1="484.50" x2="359.50" y2="487.70" stroke="#222" stroke-width="0.8"/>
<line x1="377.50" y1="484.50" x2="377.50" y2="487.70" stroke="#222" stroke-width="0.8"/>
<line x1="395.50" y1="484.50" x2="395.50" y2="487.70" stroke="#222" stroke-width="0.8"/>
<line x1="413.50" y1="484.50" x2="413.50" y2="487.70" stroke="#222" stroke-width="0.8"/>
<line x1="431.50" y1="484.50" x2="431.50" y2="487.70" stroke="#222" stroke-width="0.8"/>
<text x="305.40" y="495.80" font-size="6.3" text-anchor="middle" fill="#222" stroke="#222" stroke-width="0.22">0</text>
<text x="323.40" y="495.80" font-size="6.3" text-anchor="middle" fill="#222" stroke="#222" stroke-width="0.22">7</text>
<text x="341.39" y="495.80" font-size="6.3" text-anchor="middle" fill="#222" stroke="#222" stroke-width="0.22">14</text>
<text x="359.39" y="495.80" font-size="6.3" text-anchor="middle" fill="#222" stroke="#222" stroke-width="0.22">21</text>
<text x="377.39" y="495.80" font-size="6.3" text-anchor="middle" fill="#222" stroke="#222" stroke-width="0.22">28</text>
<text x="395.38" y="495.80" font-size="6.3" text-anchor="middle" fill="#222" stroke="#222" stroke-width="0.22">35</text>
<text x="413.38" y="495.80" font-size="6.3" text-anchor="middle" fill="#222" stroke="#222" stroke-width="0.22">42</text>
<text x="431.38" y="495.80" font-size="6.3" text-anchor="middle" fill="#222" stroke="#222" stroke-width="0.22">49</text>
<text x="367.00" y="506.50" font-size="6.3" text-anchor="middle" font-weight="bold" fill="#111" stroke="#111" stroke-width="0.2">Treatment days</text>
<text x="273.00" y="442.10" font-size="6.3" text-anchor="middle" font-weight="bold" fill="#111" stroke="#111" stroke-width="0.2" transform="rotate(-90 273.0 442.1)">Mean tumor volume</text>
<text x="279.60" y="442.10" font-size="6.3" text-anchor="middle" font-weight="bold" fill="#111" stroke="#111" stroke-width="0.2" transform="rotate(-90 279.6 442.1)">(mm<tspan font-size="4" dy="-2">3</tspan><tspan dy="2"> ± SEM)</tspan></text>
<line x1="305.30" y1="467.50" x2="431.38" y2="467.50" stroke="#333" stroke-width="0.95" stroke-dasharray="2.3,2.8"/>
<line x1="382.50" y1="397.30" x2="382.50" y2="484.50" stroke="#d0453a" stroke-width="0.8" stroke-dasharray="2.2,1.4"/>
<text x="386.20" y="402.60" font-size="5.1" text-anchor="start" fill="#c25a58" stroke="#c25a58" stroke-width="0.22">+ TNO155 treatment</text>
<polyline points="305.40,466.10 310.70,455.20 320.60,443.30 328.60,436.00 338.90,419.00" fill="none" stroke="#151515" stroke-width="1.0" stroke-linejoin="round"/>
<circle cx="305.40" cy="466.10" r="1.45" fill="#151515"/>
<circle cx="310.70" cy="455.20" r="1.45" fill="#151515"/>
<circle cx="320.60" cy="443.30" r="1.45" fill="#151515"/>
<circle cx="328.60" cy="436.00" r="1.45" fill="#151515"/>
<circle cx="338.90" cy="419.00" r="1.45" fill="#151515"/>
<line x1="320.50" y1="440.50" x2="320.50" y2="446.00" stroke="#151515" stroke-width="0.9"/>
<line x1="318.20" y1="440.50" x2="323.00" y2="440.50" stroke="#151515" stroke-width="0.9"/>
<line x1="318.20" y1="446.50" x2="323.00" y2="446.50" stroke="#151515" stroke-width="0.9"/>
<line x1="328.50" y1="431.60" x2="328.50" y2="441.00" stroke="#151515" stroke-width="0.9"/>
<line x1="326.20" y1="431.50" x2="331.00" y2="431.50" stroke="#151515" stroke-width="0.9"/>
<line x1="326.20" y1="441.50" x2="331.00" y2="441.50" stroke="#151515" stroke-width="0.9"/>
<line x1="338.50" y1="408.20" x2="338.50" y2="430.00" stroke="#151515" stroke-width="0.9"/>
<line x1="336.50" y1="408.50" x2="341.30" y2="408.50" stroke="#151515" stroke-width="0.9"/>
<line x1="336.50" y1="430.50" x2="341.30" y2="430.50" stroke="#151515" stroke-width="0.9"/>
<polyline points="305.40,466.10 310.80,462.10 320.20,471.80 329.60,475.60 339.00,476.80 347.10,475.40 356.50,473.00 364.60,467.90 374.00,462.40 382.10,458.30 392.10,453.50 400.20,456.20 409.90,459.40 417.90,452.90 428.70,451.30" fill="none" stroke="#3a5ca4" stroke-width="1.0" stroke-linejoin="round"/>
<circle cx="305.40" cy="466.10" r="1.4" fill="#3a5ca4"/>
<circle cx="310.80" cy="462.10" r="1.4" fill="#3a5ca4"/>
<circle cx="320.20" cy="471.80" r="1.4" fill="#3a5ca4"/>
<circle cx="329.60" cy="475.60" r="1.4" fill="#3a5ca4"/>
<circle cx="339.00" cy="476.80" r="1.4" fill="#3a5ca4"/>
<circle cx="347.10" cy="475.40" r="1.4" fill="#3a5ca4"/>
<circle cx="356.50" cy="473.00" r="1.4" fill="#3a5ca4"/>
<circle cx="364.60" cy="467.90" r="1.4" fill="#3a5ca4"/>
<circle cx="374.00" cy="462.40" r="1.4" fill="#3a5ca4"/>
<circle cx="382.10" cy="458.30" r="1.4" fill="#3a5ca4"/>
<circle cx="392.10" cy="453.50" r="1.4" fill="#3a5ca4"/>
<circle cx="400.20" cy="456.20" r="1.4" fill="#3a5ca4"/>
<circle cx="409.90" cy="459.40" r="1.4" fill="#3a5ca4"/>
<circle cx="417.90" cy="452.90" r="1.4" fill="#3a5ca4"/>
<circle cx="428.70" cy="451.30" r="1.4" fill="#3a5ca4"/>
<line x1="320.50" y1="469.60" x2="320.50" y2="474.00" stroke="#3a5ca4" stroke-width="0.9"/>
<line x1="318.30" y1="469.50" x2="322.10" y2="469.50" stroke="#3a5ca4" stroke-width="0.9"/>
<line x1="318.30" y1="474.50" x2="322.10" y2="474.50" stroke="#3a5ca4" stroke-width="0.9"/>
<line x1="329.50" y1="473.40" x2="329.50" y2="477.80" stroke="#3a5ca4" stroke-width="0.9"/>
<line x1="327.70" y1="473.50" x2="331.50" y2="473.50" stroke="#3a5ca4" stroke-width="0.9"/>
<line x1="327.70" y1="477.50" x2="331.50" y2="477.50" stroke="#3a5ca4" stroke-width="0.9"/>
<line x1="339.50" y1="474.60" x2="339.50" y2="479.00" stroke="#3a5ca4" stroke-width="0.9"/>
<line x1="337.10" y1="474.50" x2="340.90" y2="474.50" stroke="#3a5ca4" stroke-width="0.9"/>
<line x1="337.10" y1="479.50" x2="340.90" y2="479.50" stroke="#3a5ca4" stroke-width="0.9"/>
<line x1="347.50" y1="473.20" x2="347.50" y2="477.60" stroke="#3a5ca4" stroke-width="0.9"/>
<line x1="345.20" y1="473.50" x2="349.00" y2="473.50" stroke="#3a5ca4" stroke-width="0.9"/>
<line x1="345.20" y1="477.50" x2="349.00" y2="477.50" stroke="#3a5ca4" stroke-width="0.9"/>
<line x1="356.50" y1="470.80" x2="356.50" y2="475.20" stroke="#3a5ca4" stroke-width="0.9"/>
<line x1="354.60" y1="470.50" x2="358.40" y2="470.50" stroke="#3a5ca4" stroke-width="0.9"/>
<line x1="354.60" y1="475.50" x2="358.40" y2="475.50" stroke="#3a5ca4" stroke-width="0.9"/>
<line x1="364.50" y1="465.70" x2="364.50" y2="470.10" stroke="#3a5ca4" stroke-width="0.9"/>
<line x1="362.70" y1="465.50" x2="366.50" y2="465.50" stroke="#3a5ca4" stroke-width="0.9"/>
<line x1="362.70" y1="470.50" x2="366.50" y2="470.50" stroke="#3a5ca4" stroke-width="0.9"/>
<line x1="374.50" y1="460.20" x2="374.50" y2="464.60" stroke="#3a5ca4" stroke-width="0.9"/>
<line x1="372.10" y1="460.50" x2="375.90" y2="460.50" stroke="#3a5ca4" stroke-width="0.9"/>
<line x1="372.10" y1="464.50" x2="375.90" y2="464.50" stroke="#3a5ca4" stroke-width="0.9"/>
<line x1="382.50" y1="456.10" x2="382.50" y2="460.50" stroke="#3a5ca4" stroke-width="0.9"/>
<line x1="380.20" y1="456.50" x2="384.00" y2="456.50" stroke="#3a5ca4" stroke-width="0.9"/>
<line x1="380.20" y1="460.50" x2="384.00" y2="460.50" stroke="#3a5ca4" stroke-width="0.9"/>
<line x1="392.50" y1="451.30" x2="392.50" y2="455.70" stroke="#3a5ca4" stroke-width="0.9"/>
<line x1="390.20" y1="451.50" x2="394.00" y2="451.50" stroke="#3a5ca4" stroke-width="0.9"/>
<line x1="390.20" y1="455.50" x2="394.00" y2="455.50" stroke="#3a5ca4" stroke-width="0.9"/>
<line x1="400.50" y1="454.00" x2="400.50" y2="458.40" stroke="#3a5ca4" stroke-width="0.9"/>
<line x1="398.30" y1="454.50" x2="402.10" y2="454.50" stroke="#3a5ca4" stroke-width="0.9"/>
<line x1="398.30" y1="458.50" x2="402.10" y2="458.50" stroke="#3a5ca4" stroke-width="0.9"/>
<line x1="409.50" y1="457.20" x2="409.50" y2="461.60" stroke="#3a5ca4" stroke-width="0.9"/>
<line x1="408.00" y1="457.50" x2="411.80" y2="457.50" stroke="#3a5ca4" stroke-width="0.9"/>
<line x1="408.00" y1="461.50" x2="411.80" y2="461.50" stroke="#3a5ca4" stroke-width="0.9"/>
<line x1="417.50" y1="450.70" x2="417.50" y2="455.10" stroke="#3a5ca4" stroke-width="0.9"/>
<line x1="416.00" y1="450.50" x2="419.80" y2="450.50" stroke="#3a5ca4" stroke-width="0.9"/>
<line x1="416.00" y1="455.50" x2="419.80" y2="455.50" stroke="#3a5ca4" stroke-width="0.9"/>
<line x1="428.50" y1="449.10" x2="428.50" y2="453.50" stroke="#3a5ca4" stroke-width="0.9"/>
<line x1="426.80" y1="449.50" x2="430.60" y2="449.50" stroke="#3a5ca4" stroke-width="0.9"/>
<line x1="426.80" y1="453.50" x2="430.60" y2="453.50" stroke="#3a5ca4" stroke-width="0.9"/>
<polyline points="305.40,466.10 310.80,462.10 320.20,471.80 329.60,475.00 339.00,476.30 347.10,475.00 356.50,472.60 364.60,467.70 374.00,461.50 382.10,454.80" fill="none" stroke="#b02a38" stroke-width="1.0" stroke-linejoin="round"/>
<circle cx="305.40" cy="466.10" r="1.4" fill="#b02a38"/>
<circle cx="310.80" cy="462.10" r="1.4" fill="#b02a38"/>
<circle cx="320.20" cy="471.80" r="1.4" fill="#b02a38"/>
<circle cx="329.60" cy="475.00" r="1.4" fill="#b02a38"/>
<circle cx="339.00" cy="476.30" r="1.4" fill="#b02a38"/>
<circle cx="347.10" cy="475.00" r="1.4" fill="#b02a38"/>
<circle cx="356.50" cy="472.60" r="1.4" fill="#b02a38"/>
<circle cx="364.60" cy="467.70" r="1.4" fill="#b02a38"/>
<circle cx="374.00" cy="461.50" r="1.4" fill="#b02a38"/>
<circle cx="382.10" cy="454.80" r="1.4" fill="#b02a38"/>
<line x1="320.50" y1="470.00" x2="320.50" y2="473.60" stroke="#b02a38" stroke-width="0.9"/>
<line x1="318.30" y1="470.50" x2="322.10" y2="470.50" stroke="#b02a38" stroke-width="0.9"/>
<line x1="318.30" y1="473.50" x2="322.10" y2="473.50" stroke="#b02a38" stroke-width="0.9"/>
<line x1="329.50" y1="473.20" x2="329.50" y2="476.80" stroke="#b02a38" stroke-width="0.9"/>
<line x1="327.70" y1="473.50" x2="331.50" y2="473.50" stroke="#b02a38" stroke-width="0.9"/>
<line x1="327.70" y1="476.50" x2="331.50" y2="476.50" stroke="#b02a38" stroke-width="0.9"/>
<line x1="339.50" y1="474.50" x2="339.50" y2="478.10" stroke="#b02a38" stroke-width="0.9"/>
<line x1="337.10" y1="474.50" x2="340.90" y2="474.50" stroke="#b02a38" stroke-width="0.9"/>
<line x1="337.10" y1="478.50" x2="340.90" y2="478.50" stroke="#b02a38" stroke-width="0.9"/>
<line x1="347.50" y1="473.20" x2="347.50" y2="476.80" stroke="#b02a38" stroke-width="0.9"/>
<line x1="345.20" y1="473.50" x2="349.00" y2="473.50" stroke="#b02a38" stroke-width="0.9"/>
<line x1="345.20" y1="476.50" x2="349.00" y2="476.50" stroke="#b02a38" stroke-width="0.9"/>
<line x1="356.50" y1="470.80" x2="356.50" y2="474.40" stroke="#b02a38" stroke-width="0.9"/>
<line x1="354.60" y1="470.50" x2="358.40" y2="470.50" stroke="#b02a38" stroke-width="0.9"/>
<line x1="354.60" y1="474.50" x2="358.40" y2="474.50" stroke="#b02a38" stroke-width="0.9"/>
<line x1="364.50" y1="465.90" x2="364.50" y2="469.50" stroke="#b02a38" stroke-width="0.9"/>
<line x1="362.70" y1="465.50" x2="366.50" y2="465.50" stroke="#b02a38" stroke-width="0.9"/>
<line x1="362.70" y1="469.50" x2="366.50" y2="469.50" stroke="#b02a38" stroke-width="0.9"/>
<line x1="374.50" y1="458.00" x2="374.50" y2="465.00" stroke="#b02a38" stroke-width="0.9"/>
<line x1="371.90" y1="458.50" x2="376.10" y2="458.50" stroke="#b02a38" stroke-width="0.9"/>
<line x1="371.90" y1="465.50" x2="376.10" y2="465.50" stroke="#b02a38" stroke-width="0.9"/>
<line x1="382.50" y1="449.40" x2="382.50" y2="460.00" stroke="#b02a38" stroke-width="0.9"/>
<line x1="380.00" y1="449.50" x2="384.20" y2="449.50" stroke="#b02a38" stroke-width="0.9"/>
<line x1="380.00" y1="460.50" x2="384.20" y2="460.50" stroke="#b02a38" stroke-width="0.9"/>
<line x1="440.70" y1="432.50" x2="450.50" y2="432.50" stroke="#151515" stroke-width="0.8"/>
<circle cx="445.60" cy="432.50" r="1.4" fill="#151515"/>
<text x="454.00" y="434.60" font-size="6.4" text-anchor="start" fill="#222" stroke="#222" stroke-width="0.22">Vehicle</text>
<line x1="440.70" y1="442.50" x2="450.50" y2="442.50" stroke="#b02a38" stroke-width="0.8"/>
<circle cx="445.60" cy="442.30" r="1.4" fill="#b02a38"/>
<text x="454.00" y="444.40" font-size="6.4" text-anchor="start" fill="#222" stroke="#222" stroke-width="0.22">JDQ443 100 mg/kg QD</text>
<line x1="440.70" y1="452.50" x2="450.50" y2="452.50" stroke="#3a5ca4" stroke-width="0.8"/>
<circle cx="445.60" cy="452.60" r="1.4" fill="#3a5ca4"/>
<text x="454.00" y="454.70" font-size="6.4" text-anchor="start" fill="#222" stroke="#222" stroke-width="0.22">JDQ443 100 mpk QD</text>
<text x="454.00" y="461.10" font-size="6.4" text-anchor="start" fill="#222" stroke="#222" stroke-width="0.22">until day 30 then</text>
<text x="454.00" y="467.50" font-size="6.4" text-anchor="start" fill="#222" stroke="#222" stroke-width="0.22">JDQ443 100 mg/kg QD</text>
<text x="454.00" y="473.90" font-size="6.4" text-anchor="start" fill="#222" stroke="#222" stroke-width="0.22">+ TNO155 10 mpk</text>
</svg></body></html>
